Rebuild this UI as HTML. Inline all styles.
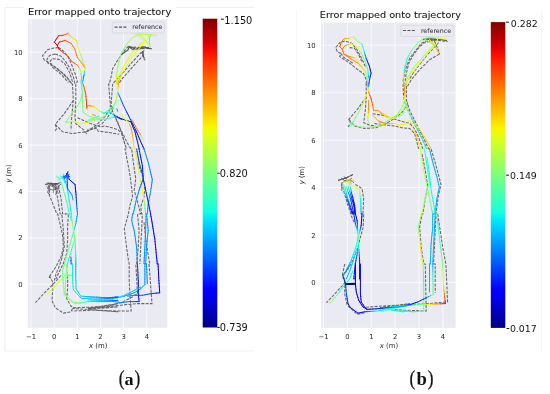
<!DOCTYPE html><html><head><meta charset="utf-8"><title>Error mapped onto trajectory</title>
<style>html,body{margin:0;padding:0;background:#fff}body{width:550px;height:394px;overflow:hidden;position:relative}svg{position:absolute;left:0;top:0;display:block}text{font-family:"DejaVu Sans","Liberation Sans",sans-serif}g.cap text{font-family:"Liberation Serif","DejaVu Serif",serif}</style></head><body>
<svg width="550" height="394" viewBox="0 0 550 394" fill="#262626">
<defs><linearGradient id="jet" x1="0" y1="1" x2="0" y2="0">
<stop offset="0.000" stop-color="#000080"/>
<stop offset="0.025" stop-color="#00009c"/>
<stop offset="0.050" stop-color="#0000b9"/>
<stop offset="0.075" stop-color="#0000d6"/>
<stop offset="0.100" stop-color="#0000f3"/>
<stop offset="0.125" stop-color="#0000ff"/>
<stop offset="0.150" stop-color="#0019ff"/>
<stop offset="0.175" stop-color="#0033ff"/>
<stop offset="0.200" stop-color="#004dff"/>
<stop offset="0.225" stop-color="#0066ff"/>
<stop offset="0.250" stop-color="#0080ff"/>
<stop offset="0.275" stop-color="#0099ff"/>
<stop offset="0.300" stop-color="#00b2ff"/>
<stop offset="0.325" stop-color="#00ccff"/>
<stop offset="0.350" stop-color="#00e5f7"/>
<stop offset="0.375" stop-color="#15ffe2"/>
<stop offset="0.400" stop-color="#29ffce"/>
<stop offset="0.425" stop-color="#3effb9"/>
<stop offset="0.450" stop-color="#52ffa5"/>
<stop offset="0.475" stop-color="#67ff90"/>
<stop offset="0.500" stop-color="#7bff7b"/>
<stop offset="0.525" stop-color="#90ff67"/>
<stop offset="0.550" stop-color="#a5ff52"/>
<stop offset="0.575" stop-color="#b9ff3e"/>
<stop offset="0.600" stop-color="#ceff29"/>
<stop offset="0.625" stop-color="#e2ff15"/>
<stop offset="0.650" stop-color="#f7f600"/>
<stop offset="0.675" stop-color="#ffde00"/>
<stop offset="0.700" stop-color="#ffc600"/>
<stop offset="0.725" stop-color="#ffaf00"/>
<stop offset="0.750" stop-color="#ff9700"/>
<stop offset="0.775" stop-color="#ff8000"/>
<stop offset="0.800" stop-color="#ff6800"/>
<stop offset="0.825" stop-color="#ff5000"/>
<stop offset="0.850" stop-color="#ff3900"/>
<stop offset="0.875" stop-color="#ff2100"/>
<stop offset="0.900" stop-color="#f30900"/>
<stop offset="0.925" stop-color="#d60000"/>
<stop offset="0.950" stop-color="#b90000"/>
<stop offset="0.975" stop-color="#9c0000"/>
<stop offset="1.000" stop-color="#800000"/>
</linearGradient>
<clipPath id="ca"><rect x="28" y="19.2" width="139.3" height="308.6"/></clipPath>
<clipPath id="cb"><rect x="321" y="22.6" width="134.6" height="305"/></clipPath>
</defs>
<rect width="550" height="394" fill="#fff"/>
<path d="M254.5 7.6H5V350.9H254.5" fill="none" stroke="#eeeeee" stroke-width="1"/>
<path d="M296.6 10V352M541.6 10V351" fill="none" stroke="#f6f6f6" stroke-width="1"/>
<rect x="28" y="19.2" width="139.3" height="308.6" fill="#eaeaf2"/>
<path d="M31.1 19.2V327.8M54.2 19.2V327.8M77.3 19.2V327.8M100.5 19.2V327.8M123.6 19.2V327.8M146.8 19.2V327.8M28.0 284.3H167.3M28.0 237.9H167.3M28.0 191.5H167.3M28.0 145.1H167.3M28.0 98.7H167.3M28.0 52.3H167.3" stroke="#fff" stroke-width="0.8" fill="none" opacity="0.9"/>
<g font-size="6.8" text-anchor="middle">
<text x="31.1" y="339.0">−1</text>
<text x="54.2" y="339.0">0</text>
<text x="77.3" y="339.0">1</text>
<text x="100.5" y="339.0">2</text>
<text x="123.6" y="339.0">3</text>
<text x="146.8" y="339.0">4</text>
</g><g font-size="6.8" text-anchor="end">
<text x="22.6" y="286.8">0</text>
<text x="22.6" y="240.4">2</text>
<text x="22.6" y="194.0">4</text>
<text x="22.6" y="147.6">6</text>
<text x="22.6" y="101.2">8</text>
<text x="22.6" y="54.8">10</text>
</g>
<text x="98.2" y="348.3" font-size="6.9" text-anchor="middle"><tspan font-style="italic">x</tspan> (m)</text>
<text transform="translate(10.8 173.5) rotate(-90)" font-size="6.9" text-anchor="middle"><tspan font-style="italic">y</tspan> (m)</text>
<g clip-path="url(#ca)">
<g fill="none" stroke="#5a5a5a" stroke-width="1.05" stroke-dasharray="3 1.3" opacity="0.92">
<path d="M58.5 47.4L52.7 48.3L47.5 49.8L42.5 55.6L44.2 59.9L50.3 63.5L59.3 70.1L66.7 76.7L71.2 83.8L72.5 84.0L73.3 100.5L71.7 117.0L70.9 130.2"/>
<path d="M55.2 53.9L49.4 55.6L47.0 59.4L47.8 63.2L54.4 66.8L62.6 73.4L69.2 80.0L71.7 83.8"/>
<path d="M58.5 47.4L63.4 51.1L67.6 56.1L71.2 63.5L75.0 73.4L77.5 81.6L75.8 84.0L75.8 100.5L75.0 117.0L75.8 123.6L84.0 130.2L86.5 133.5L88.2 129.3L97.2 128.5L97.9 131.0L109.4 132.6L119.3 134.3"/>
<path d="M55.2 53.9L61.0 56.1L65.9 61.9L70.0 68.5L73.3 76.7L75.0 83.8"/>
<path d="M72.5 81.6L69.2 71.7L65.1 64.3L59.3 59.4L52.7 58.6L50.3 61.0L51.9 66.8L61.0 74.2L68.4 82.5"/>
<path d="M73.3 100.5L64.3 113.7L55.2 124.4L56.8 128.5L54.4 131.8"/>
<path d="M55.2 124.4L62.6 131.8L72.5 133.5L85.7 131.8L93.9 128.5L102.2 123.6L110.4 113.7L113.7 107.1L110.3 108.7L110.3 103.8L109.4 93.9L108.6 84.0L109.4 83.8L111.1 76.7L112.7 68.5L117.7 60.2L123.4 52.0L128.4 46.2"/>
<path d="M77.5 117.8L90.6 123.6L100.5 126.9L104.5 126.0L114.4 128.5L118.5 130.2L121.8 133.5L125.1 145.0L126.7 148.8L125.1 149.0L127.6 162.2L130.0 175.4L131.7 188.6L132.5 196.8L130.0 205.0L128.4 213.8L128.4 214.0L124.3 228.8L125.9 242.0L128.4 260.2L129.2 263.9L129.2 264.0L129.2 280.5L130.0 297.0L131.2 311.0L117.7 311.0L104.5 310.5L94.6 310.2L88.0 309.3L118.0 311.8L110.4 311.0L93.9 310.2L72.5 311.0"/>
<path d="M128.4 46.2L135.8 48.7L142.4 47.0L151.5 48.7"/>
<path d="M129.2 47.4L135.0 47.0L140.7 49.0L149.0 47.8"/>
<path d="M142.4 51.1L143.2 55.3L144.9 60.2"/>
<path d="M141.6 52.0L132.5 61.9L121.0 75.0L112.7 83.8L112.7 84.0L111.9 93.9L111.1 105.4L112.7 112.0L117.7 121.9L121.8 133.5L125.1 145.0"/>
<path d="M144.0 54.4L134.2 65.2L122.6 78.3L118.5 83.8"/>
<path d="M114.4 115.3L119.3 126.9L124.3 136.7L129.2 146.6L131.7 149.0L133.3 162.2L135.8 178.7L134.2 190.2L137.5 201.7L140.7 213.8L137.5 214.0L139.1 230.5L138.3 247.0L136.6 263.9L135.8 264.0L136.6 277.2L137.5 293.7L130.9 297.8L121.0 302.7L107.8 306.0L96.2 307.7L88.0 308.2L118.0 306.9L102.2 308.2L85.7 309.3L72.5 308.5"/>
<path d="M137.5 162.2L142.4 175.4L144.9 186.9L144.0 196.8L140.7 206.7L141.6 213.8L142.4 214.0L141.6 230.5L140.7 247.0L139.9 263.9"/>
<path d="M144.0 222.2L145.7 238.7L148.2 255.2L149.8 263.9L149.0 264.0L150.3 280.5L152.0 303.6L137.5 303.6L121.0 305.2L104.5 307.2L88.0 308.5L118.0 303.6L103.8 306.0L90.6 307.2L74.2 307.7L70.9 306.0L66.7 298.6L67.6 288.7L67.6 276.4"/>
<path d="M110.3 108.7L104.5 117.0L96.2 125.2L88.0 131.0"/>
<path d="M45.3 184.4L51.1 183.6L59.3 183.6"/>
<path d="M47.8 182.8L54.4 186.1L58.5 182.0"/>
<path d="M48.6 185.3L49.4 195.2L52.7 203.4L56.8 213.8L57.7 214.0L60.1 223.9L62.6 235.4L63.4 247.0L61.0 256.9L56.0 266.7L49.4 276.6L49.4 275.5L52.7 282.1L52.7 290.4L51.9 300.3L55.2 307.7L63.4 313.1L70.9 311.8L72.5 308.5"/>
<path d="M55.2 186.9L57.7 198.5L60.1 213.8L61.8 214.0L63.4 230.5L64.3 247.0L61.8 258.5L58.5 268.4L56.0 273.9L54.4 280.5"/>
<path d="M58.5 186.1L61.0 198.5L62.6 213.8L68.4 214.0L67.6 227.2L67.6 240.4L66.7 253.6L63.4 263.5L59.3 271.7L56.0 278.8"/>
<path d="M61.0 275.5L52.7 284.6L42.8 294.5L34.6 303.6"/>
</g>
<g fill="none" stroke="#505050" stroke-linejoin="round" opacity="0.9">
<path d="M121.6 54.6L125.0 52.0L128.2 49.7L129.0 46.8L133.1 49.7L136.0 48.3L138.9 47.6L144.6 46.8L147.9 48.4L151.6 48.7" stroke-width="1.3"/>
<path d="M129.0 47.5L132.0 47.0L135.0 49.5L140.0 48.8L145.0 47.8L149.0 47.5" stroke-width="1.0"/>
<path d="M143.8 50.5L143.0 54.6L144.6 60.3" stroke-width="0.9"/>
<path d="M143.8 50.5L141.5 53.0L143.5 56.0" stroke-width="0.9"/>
<path d="M45.2 184.3L50.0 183.5L55.0 184.5L60.5 182.5" stroke-width="0.9"/>
<path d="M47.5 182.5L52.0 186.5L56.0 183.0L59.0 186.5" stroke-width="0.9"/>
<path d="M48.5 187.0L53.0 183.0L57.0 187.5L61.0 184.0" stroke-width="0.9"/>
<path d="M49.0 185.0L50.0 190.0L48.5 194.0" stroke-width="0.8"/>
<path d="M52.0 184.0L54.0 189.0L53.0 193.0" stroke-width="0.8"/>
<path d="M55.5 184.0L57.0 190.0L58.5 194.0" stroke-width="0.8"/>
<path d="M50.5 182.0L56.0 188.0L60.0 191.0" stroke-width="0.7"/>
<path d="M46.5 186.0L49.0 189.5L47.0 192.0L50.0 195.0" stroke-width="0.7"/>
<path d="M54.0 186.0L56.5 191.5L55.5 195.0" stroke-width="0.7"/>
<path d="M47.0 188.5L53.0 190.0L59.0 188.0" stroke-width="0.7"/>
</g>
<g fill="none" stroke-width="1.0" stroke-linecap="round" opacity="1"><path d="M54.4 42.1L56.4 38.9" stroke="#b70000"/><path d="M56.4 38.9L58.5 35.8" stroke="#df0000"/><path d="M58.5 35.8L63.4 35.2" stroke="#ff2100"/><path d="M63.4 35.2L67.9 33.5" stroke="#ff5e00"/><path d="M67.9 33.5L70.2 35.7" stroke="#ff9e00"/><path d="M70.2 35.7L72.5 38.0" stroke="#ffd200"/><path d="M72.5 38.0L74.7 39.4" stroke="#ffe700"/><path d="M74.7 39.4L77.0 40.8" stroke="#ffde00"/><path d="M77.0 40.8L77.2 43.5" stroke="#ffe300"/><path d="M77.2 43.5L77.5 46.2" stroke="#f7f600"/><path d="M77.5 46.2L78.5 48.9" stroke="#e6ff10"/><path d="M78.5 48.9L79.6 51.7" stroke="#d6ff21"/><path d="M79.6 51.7L80.7 54.4" stroke="#c5ff31"/><path d="M80.7 54.4L81.6 56.9" stroke="#b2ff45"/><path d="M81.6 56.9L82.4 59.4" stroke="#9cff5a"/><path d="M82.4 59.4L83.2 61.9" stroke="#86ff70"/><path d="M83.2 61.9L84.0 64.7" stroke="#afff48"/><path d="M84.0 64.7L84.9 67.6" stroke="#ffd200"/><path d="M84.9 67.6L84.5 71.3" stroke="#d8ff1f"/><path d="M84.5 71.3L84.0 75.0" stroke="#00d9ff"/><path d="M84.0 75.0L83.5 78.0" stroke="#0068ff"/><path d="M83.5 78.0L82.9 80.9" stroke="#009eff"/><path d="M82.9 80.9L82.4 83.8" stroke="#00d4ff"/><path d="M82.4 83.8L81.6 84.0" stroke="#08f0ef"/><path d="M81.6 84.0L81.8 86.7" stroke="#15ffe2"/><path d="M81.8 86.7L82.1 89.5" stroke="#2dffca"/><path d="M82.1 89.5L82.4 92.2" stroke="#46ffb1"/><path d="M82.4 92.2L81.8 95.0" stroke="#59ff9e"/><path d="M81.8 95.0L81.3 97.7" stroke="#67ff90"/><path d="M81.3 97.7L80.7 100.5" stroke="#75ff82"/><path d="M80.7 100.5L79.1 103.2" stroke="#7bff7b"/><path d="M79.1 103.2L77.5 106.0" stroke="#7bff7b"/><path d="M77.5 106.0L75.8 108.7" stroke="#7bff7b"/><path d="M75.8 108.7L74.2 110.8" stroke="#7bff7b"/><path d="M74.2 110.8L72.5 112.8" stroke="#7bff7b"/><path d="M72.5 112.8L70.9 114.9" stroke="#7bff7b"/><path d="M70.9 114.9L69.2 117.0" stroke="#7bff7b"/><path d="M69.2 117.0L67.6 119.9" stroke="#7bff7b"/><path d="M67.6 119.9L65.9 122.7" stroke="#7bff7b"/><path d="M65.9 122.7L69.2 121.9" stroke="#94ff63"/><path d="M69.2 121.9L72.5 121.1" stroke="#c5ff31"/><path d="M72.5 121.1L75.3 121.9" stroke="#e2ff15"/><path d="M75.3 121.9L78.0 122.7" stroke="#eaff0c"/><path d="M78.0 122.7L80.7 123.6" stroke="#f3fa04"/><path d="M80.7 123.6L83.5 123.0" stroke="#f8f400"/><path d="M83.5 123.0L86.2 122.5" stroke="#fbf100"/><path d="M86.2 122.5L89.0 121.9" stroke="#feee00"/><path d="M89.0 121.9L91.7 121.1" stroke="#f0fd07"/><path d="M91.7 121.1L94.5 120.3" stroke="#d2ff25"/><path d="M94.5 120.3L97.2 119.4" stroke="#b4ff43"/><path d="M97.2 119.4L100.0 119.4" stroke="#93ff64"/><path d="M100.0 119.4L102.7 119.4" stroke="#6fff88"/><path d="M102.7 119.4L105.5 119.4" stroke="#4bffab"/><path d="M105.5 119.4L108.2 118.6" stroke="#37ffc0"/><path d="M108.2 118.6L111.0 117.8" stroke="#31ffc5"/><path d="M111.0 117.8L113.7 117.0" stroke="#2cffcb"/><path d="M113.7 117.0L116.8 117.0" stroke="#00e5f7"/><path d="M116.8 117.0L119.3 118.2" stroke="#0099ff"/><path d="M119.3 118.2L121.8 119.4" stroke="#0066ff"/></g>
<g fill="none" stroke-width="1.0" stroke-linecap="round" opacity="1"><path d="M54.4 42.1L57.3 45.4" stroke="#bf0000"/><path d="M57.3 45.4L59.3 42.1" stroke="#e80000"/><path d="M59.3 42.1L62.2 41.3" stroke="#ff1800"/><path d="M62.2 41.3L65.1 40.4" stroke="#ff3400"/><path d="M65.1 40.4L68.1 41.9" stroke="#ff5000"/><path d="M68.1 41.9L71.2 43.4" stroke="#ff6d00"/><path d="M71.2 43.4L73.1 46.4" stroke="#ff7d00"/><path d="M73.1 46.4L75.0 49.5" stroke="#ff8200"/><path d="M75.0 49.5L75.8 52.2" stroke="#ff8400"/><path d="M75.8 52.2L76.6 55.0" stroke="#ff8400"/><path d="M76.6 55.0L77.5 57.7" stroke="#ff8400"/><path d="M77.5 57.7L79.5 60.2" stroke="#ff8400"/><path d="M79.5 60.2L81.6 62.7" stroke="#ff8400"/><path d="M81.6 62.7L83.2 65.2" stroke="#ff8900"/><path d="M83.2 65.2L84.9 67.6" stroke="#ff9200"/></g>
<g fill="none" stroke-width="1.0" stroke-linecap="round" opacity="1"><path d="M57.3 45.4L58.5 48.7" stroke="#e80000"/><path d="M58.5 48.7L61.0 50.7" stroke="#ff1800"/><path d="M61.0 50.7L63.4 52.8" stroke="#ff3400"/><path d="M63.4 52.8L65.9 54.7" stroke="#ff4400"/><path d="M65.9 54.7L68.4 56.6" stroke="#ff4900"/><path d="M68.4 56.6L69.8 58.8" stroke="#ff4c00"/><path d="M69.8 58.8L71.2 61.0" stroke="#ff4c00"/><path d="M71.2 61.0L74.3 63.1" stroke="#ff5700"/><path d="M74.3 63.1L77.5 65.2" stroke="#ff6f00"/><path d="M77.5 65.2L78.9 67.6" stroke="#ff9700"/><path d="M78.9 67.6L80.4 70.1" stroke="#ffd000"/><path d="M80.4 70.1L81.0 73.4" stroke="#c1ff35"/><path d="M81.0 73.4L81.6 76.7" stroke="#46ffb1"/><path d="M81.6 76.7L81.3 80.2" stroke="#08f0ef"/><path d="M81.3 80.2L81.1 83.8" stroke="#08f0ef"/><path d="M81.1 83.8L83.2 84.0" stroke="#bdff3a"/><path d="M83.2 84.0L83.8 86.5" stroke="#ff6400"/><path d="M83.8 86.5L84.5 88.9" stroke="#ff5d00"/><path d="M84.5 88.9L85.1 91.4" stroke="#ff5600"/><path d="M85.1 91.4L85.7 93.9" stroke="#ff4f00"/><path d="M85.7 93.9L86.0 96.6" stroke="#ff4a00"/><path d="M86.0 96.6L86.2 99.4" stroke="#ff4700"/><path d="M86.2 99.4L86.5 102.1" stroke="#ff4400"/><path d="M86.5 102.1L86.5 105.4" stroke="#ff4c00"/><path d="M86.5 105.4L86.5 108.7" stroke="#ff5e00"/><path d="M86.5 108.7L88.2 105.4" stroke="#ff7600"/><path d="M88.2 105.4L91.0 105.8" stroke="#ff9e00"/><path d="M91.0 105.8L93.9 106.3" stroke="#ffd200"/><path d="M93.9 106.3L96.4 108.3" stroke="#f3fa04"/><path d="M96.4 108.3L98.9 110.4" stroke="#daff1d"/><path d="M98.9 110.4L101.4 112.0" stroke="#a0ff56"/><path d="M101.4 112.0L103.8 113.7" stroke="#46ffb1"/><path d="M103.8 113.7L106.0 112.0" stroke="#22ffd5"/><path d="M106.0 112.0L108.2 110.4" stroke="#35ffc1"/><path d="M108.2 110.4L110.4 108.7" stroke="#49ffae"/><path d="M110.4 108.7L112.3 106.7" stroke="#57ff9f"/><path d="M112.3 106.7L114.2 104.6" stroke="#62ff95"/><path d="M114.2 104.6L116.1 102.5" stroke="#6cff8b"/><path d="M116.1 102.5L118.0 100.5" stroke="#76ff81"/></g>
<g fill="none" stroke-width="1.0" stroke-linecap="round" opacity="1"><path d="M82.4 93.9L82.4 97.2" stroke="#7bff7b"/><path d="M82.4 97.2L82.4 100.5" stroke="#7bff7b"/><path d="M82.4 100.5L82.4 103.8" stroke="#7bff7b"/><path d="M82.4 103.8L82.7 106.5" stroke="#7bff7b"/><path d="M82.7 106.5L82.9 109.3" stroke="#7bff7b"/><path d="M82.9 109.3L83.2 112.0" stroke="#7bff7b"/><path d="M83.2 112.0L85.3 113.7" stroke="#7bff7b"/><path d="M85.3 113.7L87.3 115.3" stroke="#7bff7b"/><path d="M87.3 115.3L90.6 116.6" stroke="#77ff80"/><path d="M90.6 116.6L93.9 117.8" stroke="#6fff88"/><path d="M93.9 117.8L96.4 117.0" stroke="#65ff92"/><path d="M96.4 117.0L98.9 116.1" stroke="#58ff9e"/><path d="M98.9 116.1L96.2 117.2" stroke="#54ffa2"/><path d="M96.2 117.2L93.4 118.2" stroke="#58ff9e"/><path d="M93.4 118.2L90.7 119.2" stroke="#5dff9a"/><path d="M90.7 119.2L88.0 120.3" stroke="#61ff96"/><path d="M88.0 120.3L91.3 119.9" stroke="#69ff8e"/><path d="M91.3 119.9L94.6 119.4" stroke="#75ff82"/><path d="M94.6 119.4L97.9 118.6" stroke="#7bff7b"/><path d="M97.9 118.6L101.2 117.8" stroke="#7bff7b"/><path d="M101.2 117.8L104.5 116.1" stroke="#7bff7b"/><path d="M104.5 116.1L107.8 114.5" stroke="#7bff7b"/><path d="M107.8 114.5L109.4 112.6" stroke="#7eff79"/><path d="M109.4 112.6L111.1 110.6" stroke="#84ff73"/><path d="M111.1 110.6L112.7 108.7" stroke="#89ff6e"/><path d="M112.7 108.7L113.8 106.0" stroke="#90ff67"/><path d="M113.8 106.0L114.9 103.2" stroke="#98ff5f"/><path d="M114.9 103.2L116.0 100.5" stroke="#a0ff56"/><path d="M116.0 100.5L116.6 97.7" stroke="#abff4b"/><path d="M116.6 97.7L117.1 95.0" stroke="#b9ff3e"/><path d="M117.1 95.0L117.7 92.2" stroke="#c7ff30"/><path d="M117.7 92.2L117.9 89.5" stroke="#e2ff15"/><path d="M117.9 89.5L118.2 86.7" stroke="#ffde00"/><path d="M118.2 86.7L118.5 84.0" stroke="#ffaf00"/><path d="M118.5 84.0L116.8 83.8" stroke="#ffaf00"/><path d="M116.8 83.8L116.7 80.9" stroke="#ffde00"/><path d="M116.7 80.9L116.5 78.0" stroke="#e2ff15"/><path d="M116.5 78.0L116.4 75.0" stroke="#b9ff3e"/><path d="M116.4 75.0L116.9 72.2" stroke="#a1ff55"/><path d="M116.9 72.2L117.4 69.3" stroke="#9bff5c"/><path d="M117.4 69.3L118.0 66.4" stroke="#95ff62"/><path d="M118.0 66.4L118.5 63.5" stroke="#8fff68"/><path d="M118.5 63.5L119.1 61.0" stroke="#8aff6d"/><path d="M119.1 61.0L119.7 58.6" stroke="#86ff71"/><path d="M119.7 58.6L120.3 56.1" stroke="#82ff75"/><path d="M120.3 56.1L121.0 53.6" stroke="#7dff79"/><path d="M121.0 53.6L122.6 50.9" stroke="#7eff79"/><path d="M122.6 50.9L124.3 48.1" stroke="#84ff73"/><path d="M124.3 48.1L125.9 45.4" stroke="#89ff6e"/><path d="M125.9 45.4L127.7 43.2" stroke="#90ff67"/><path d="M127.7 43.2L129.4 41.0" stroke="#98ff5f"/><path d="M129.4 41.0L131.2 38.8" stroke="#a0ff56"/><path d="M131.2 38.8L133.9 37.1" stroke="#a7ff50"/><path d="M133.9 37.1L136.6 35.5" stroke="#abff4c"/><path d="M136.6 35.5L139.5 34.8" stroke="#afff48"/><path d="M139.5 34.8L142.4 34.2" stroke="#b3ff44"/><path d="M142.4 34.2L146.1 34.4" stroke="#b7ff40"/><path d="M146.1 34.4L149.8 34.7" stroke="#bbff3c"/><path d="M149.8 34.7L153.5 35.1" stroke="#c1ff35"/><path d="M153.5 35.1L157.2 35.5" stroke="#caff2d"/></g>
<g fill="none" stroke-width="1.0" stroke-linecap="round" opacity="1"><path d="M151.1 34.2L149.5 38.0" stroke="#67ff90"/><path d="M149.5 38.0L149.2 42.2" stroke="#52ffa5"/><path d="M149.2 42.2L149.7 45.0" stroke="#67ff90"/><path d="M149.7 45.0L150.3 47.7" stroke="#90ff67"/><path d="M150.3 47.7L148.8 45.5" stroke="#afff48"/><path d="M148.8 45.5L147.3 43.4" stroke="#c3ff33"/><path d="M147.3 43.4L145.9 41.2" stroke="#caff2d"/><path d="M145.9 41.2L144.5 38.9" stroke="#c1ff35"/><path d="M144.5 38.9L142.1 36.3" stroke="#bbff3c"/><path d="M142.1 36.3L139.8 33.7" stroke="#b7ff40"/><path d="M139.8 33.7L135.0 34.2" stroke="#b1ff46"/></g>
<g fill="none" stroke-width="1.0" stroke-linecap="round" opacity="1"><path d="M149.8 34.7L148.2 37.4" stroke="#d6ff21"/><path d="M148.2 37.4L146.5 40.1" stroke="#e6ff10"/><path d="M146.5 40.1L144.7 42.1" stroke="#efff08"/><path d="M144.7 42.1L142.9 44.2" stroke="#efff08"/><path d="M142.9 44.2L141.1 46.2" stroke="#efff08"/><path d="M141.1 46.2L139.3 48.3" stroke="#efff08"/><path d="M139.3 48.3L137.5 50.3" stroke="#efff08"/><path d="M137.5 50.3L135.8 52.6" stroke="#efff08"/><path d="M135.8 52.6L134.2 54.9" stroke="#efff08"/><path d="M134.2 54.9L132.5 57.2" stroke="#efff08"/><path d="M132.5 57.2L130.9 59.5" stroke="#efff08"/><path d="M130.9 59.5L129.2 61.9" stroke="#efff08"/><path d="M129.2 61.9L127.7 64.2" stroke="#f0fd07"/><path d="M127.7 64.2L126.2 66.5" stroke="#f3f903"/><path d="M126.2 66.5L124.8 68.8" stroke="#f7f600"/><path d="M124.8 68.8L123.3 71.1" stroke="#faf200"/><path d="M123.3 71.1L121.8 73.4" stroke="#fdee00"/><path d="M121.8 73.4L120.8 76.0" stroke="#ffe100"/><path d="M120.8 76.0L119.7 78.6" stroke="#ffcc00"/><path d="M119.7 78.6L118.7 81.2" stroke="#ffb700"/><path d="M118.7 81.2L117.7 83.8" stroke="#ffa200"/></g>
<g fill="none" stroke-width="1.0" stroke-linecap="round" opacity="1"><path d="M137.5 34.7L139.6 36.6" stroke="#c3ff34"/><path d="M139.6 36.6L141.8 38.5" stroke="#ceff29"/><path d="M141.8 38.5L144.0 40.4" stroke="#d9ff1e"/><path d="M144.0 40.4L142.1 42.4" stroke="#deff19"/><path d="M142.1 42.4L140.2 44.3" stroke="#deff19"/><path d="M140.2 44.3L138.3 46.2" stroke="#deff19"/><path d="M138.3 46.2L136.4 48.1" stroke="#deff19"/><path d="M136.4 48.1L134.4 50.0" stroke="#deff19"/><path d="M134.4 50.0L132.5 52.0" stroke="#deff19"/><path d="M132.5 52.0L131.0 54.4" stroke="#deff19"/><path d="M131.0 54.4L129.5 56.9" stroke="#deff19"/><path d="M129.5 56.9L128.0 59.4" stroke="#deff19"/><path d="M128.0 59.4L126.5 61.9" stroke="#deff19"/><path d="M126.5 61.9L125.0 64.3" stroke="#deff19"/><path d="M125.0 64.3L123.4 66.8" stroke="#deff19"/><path d="M123.4 66.8L122.2 69.3" stroke="#deff19"/><path d="M122.2 69.3L121.0 71.7" stroke="#deff19"/><path d="M121.0 71.7L119.7 74.2" stroke="#deff19"/><path d="M119.7 74.2L118.5 76.7" stroke="#deff19"/><path d="M118.5 76.7L117.9 80.2" stroke="#efff08"/><path d="M117.9 80.2L117.3 83.8" stroke="#ffd900"/></g>
<g fill="none" stroke-width="1.0" stroke-linecap="round" opacity="1"><path d="M88.0 105.4L91.3 106.3" stroke="#ff9e00"/><path d="M91.3 106.3L94.6 107.1" stroke="#ffd200"/><path d="M94.6 107.1L97.1 109.1" stroke="#f3fa04"/><path d="M97.1 109.1L99.5 111.2" stroke="#daff1d"/><path d="M99.5 111.2L102.0 112.0" stroke="#a5ff52"/><path d="M102.0 112.0L104.5 112.8" stroke="#52ffa5"/><path d="M104.5 112.8L107.0 112.4" stroke="#21ffd6"/><path d="M107.0 112.4L109.4 112.0" stroke="#10fae6"/><path d="M109.4 112.0L112.7 114.5" stroke="#08f0ef"/><path d="M112.7 114.5L116.8 117.0" stroke="#00d1ff"/><path d="M116.8 117.0L119.3 118.2" stroke="#0094ff"/><path d="M119.3 118.2L121.8 119.4" stroke="#0057ff"/></g>
<g fill="none" stroke-width="1.0" stroke-linecap="round" opacity="1"><path d="M92.3 114.5L95.6 115.6" stroke="#ff9700"/></g>
<g fill="none" stroke-width="1.0" stroke-linecap="round" opacity="1"><path d="M117.7 92.2L118.5 93.9" stroke="#15ffe2"/><path d="M118.5 93.9L119.5 96.2" stroke="#007aff"/><path d="M119.5 96.2L120.5 98.5" stroke="#0070ff"/><path d="M120.5 98.5L121.5 100.8" stroke="#0066ff"/><path d="M121.5 100.8L122.5 103.1" stroke="#005cff"/><path d="M122.5 103.1L123.4 105.4" stroke="#0052ff"/><path d="M123.4 105.4L124.6 107.7" stroke="#004aff"/><path d="M124.6 107.7L125.7 110.0" stroke="#0046ff"/><path d="M125.7 110.0L126.9 112.4" stroke="#0042ff"/><path d="M126.9 112.4L128.1 114.7" stroke="#003eff"/><path d="M128.1 114.7L129.2 117.0" stroke="#003aff"/><path d="M129.2 117.0L130.5 119.6" stroke="#0035ff"/><path d="M130.5 119.6L131.8 122.2" stroke="#002fff"/><path d="M131.8 122.2L133.2 124.9" stroke="#0029ff"/><path d="M133.2 124.9L134.5 127.5" stroke="#0023ff"/><path d="M134.5 127.5L135.8 130.2" stroke="#001dff"/><path d="M135.8 130.2L136.8 132.5" stroke="#0019ff"/><path d="M136.8 132.5L137.8 134.8" stroke="#0019ff"/><path d="M137.8 134.8L138.8 137.1" stroke="#0019ff"/><path d="M138.8 137.1L139.8 139.4" stroke="#0019ff"/><path d="M139.8 139.4L140.7 141.7" stroke="#0019ff"/><path d="M140.7 141.7L141.8 144.1" stroke="#0019ff"/><path d="M141.8 144.1L142.9 146.4" stroke="#0019ff"/><path d="M142.9 146.4L144.0 148.8" stroke="#0019ff"/><path d="M144.0 148.8L144.0 149.0" stroke="#0057ff"/><path d="M144.0 149.0L144.9 151.6" stroke="#0094ff"/><path d="M144.9 151.6L145.7 154.3" stroke="#0094ff"/><path d="M145.7 154.3L146.5 156.9" stroke="#0094ff"/><path d="M146.5 156.9L147.3 159.5" stroke="#0094ff"/><path d="M147.3 159.5L148.2 162.2" stroke="#0094ff"/><path d="M148.2 162.2L148.8 164.7" stroke="#0092ff"/><path d="M148.8 164.7L149.3 167.1" stroke="#0090ff"/><path d="M149.3 167.1L149.9 169.6" stroke="#008dff"/><path d="M149.9 169.6L150.5 172.1" stroke="#008aff"/><path d="M150.5 172.1L151.1 174.5" stroke="#0087ff"/><path d="M151.1 174.5L151.7 177.0" stroke="#0084ff"/><path d="M151.7 177.0L152.3 179.5" stroke="#0081ff"/><path d="M152.3 179.5L151.9 182.6" stroke="#0082ff"/><path d="M151.9 182.6L151.5 185.7" stroke="#0087ff"/><path d="M151.5 185.7L151.0 188.8" stroke="#008cff"/><path d="M151.0 188.8L150.6 191.9" stroke="#0091ff"/><path d="M150.6 191.9L150.0 194.7" stroke="#0094ff"/><path d="M150.0 194.7L149.4 197.6" stroke="#0094ff"/><path d="M149.4 197.6L148.8 200.5" stroke="#0094ff"/><path d="M148.8 200.5L148.2 203.4" stroke="#0094ff"/><path d="M148.2 203.4L148.0 206.0" stroke="#0094ff"/><path d="M148.0 206.0L147.8 208.6" stroke="#0094ff"/><path d="M147.8 208.6L147.5 211.2" stroke="#0094ff"/><path d="M147.5 211.2L147.3 213.8" stroke="#0094ff"/><path d="M147.3 213.8L146.5 214.0" stroke="#0094ff"/><path d="M146.5 214.0L146.8 216.7" stroke="#0094ff"/><path d="M146.8 216.7L147.1 219.5" stroke="#0094ff"/><path d="M147.1 219.5L147.3 222.2" stroke="#0094ff"/><path d="M147.3 222.2L147.6 225.0" stroke="#0094ff"/><path d="M147.6 225.0L147.9 227.7" stroke="#0094ff"/><path d="M147.9 227.7L148.2 230.5" stroke="#0094ff"/><path d="M148.2 230.5L147.9 233.2" stroke="#0094ff"/><path d="M147.9 233.2L147.6 236.0" stroke="#0094ff"/><path d="M147.6 236.0L147.3 238.7" stroke="#0094ff"/><path d="M147.3 238.7L147.1 241.5" stroke="#0094ff"/><path d="M147.1 241.5L146.8 244.2" stroke="#0094ff"/><path d="M146.8 244.2L146.5 247.0" stroke="#0094ff"/><path d="M146.5 247.0L146.4 249.7" stroke="#0094ff"/><path d="M146.4 249.7L146.2 252.5" stroke="#0094ff"/><path d="M146.2 252.5L146.1 255.2" stroke="#0094ff"/><path d="M146.1 255.2L146.0 258.0" stroke="#0094ff"/><path d="M146.0 258.0L145.8 260.7" stroke="#0094ff"/><path d="M145.8 260.7L145.7 263.5" stroke="#0094ff"/><path d="M145.7 263.5L144.9 264.0" stroke="#0094ff"/><path d="M144.9 264.0L144.9 266.6" stroke="#0094ff"/><path d="M144.9 266.6L144.9 269.2" stroke="#0094ff"/><path d="M144.9 269.2L144.9 271.7" stroke="#0094ff"/><path d="M144.9 271.7L144.9 274.3" stroke="#0094ff"/><path d="M144.9 274.3L144.9 276.9" stroke="#0094ff"/><path d="M144.9 276.9L144.9 279.5" stroke="#0094ff"/><path d="M144.9 279.5L144.9 282.0" stroke="#0094ff"/><path d="M144.9 282.0L144.9 284.6" stroke="#0094ff"/><path d="M144.9 284.6L142.8 286.7" stroke="#0094ff"/><path d="M142.8 286.7L140.7 288.7" stroke="#0094ff"/><path d="M140.7 288.7L138.5 290.1" stroke="#0094ff"/><path d="M138.5 290.1L136.4 291.5" stroke="#0094ff"/><path d="M136.4 291.5L134.2 292.8" stroke="#0094ff"/><path d="M134.2 292.8L131.7 293.7" stroke="#0095ff"/><path d="M131.7 293.7L129.2 294.5" stroke="#0098ff"/><path d="M129.2 294.5L126.7 295.3" stroke="#009aff"/><path d="M126.7 295.3L124.3 296.1" stroke="#009dff"/><path d="M124.3 296.1L121.4 296.8" stroke="#00a1ff"/><path d="M121.4 296.8L118.5 297.4" stroke="#00a6ff"/><path d="M118.5 297.4L115.6 298.0" stroke="#00abff"/><path d="M115.6 298.0L112.7 298.6" stroke="#00b0ff"/><path d="M112.7 298.6L109.8 298.8" stroke="#00b6ff"/><path d="M109.8 298.8L107.0 299.0" stroke="#00beff"/><path d="M107.0 299.0L104.1 299.2" stroke="#00c6ff"/><path d="M104.1 299.2L101.2 299.4" stroke="#00cdff"/><path d="M101.2 299.4L98.5 299.4" stroke="#00d4ff"/><path d="M98.5 299.4L95.9 299.4" stroke="#00daff"/><path d="M95.9 299.4L93.3 299.4" stroke="#00e0fb"/><path d="M93.3 299.4L90.6 299.4" stroke="#01e7f6"/><path d="M90.6 299.4L88.0 299.4" stroke="#06edf1"/></g>
<g fill="none" stroke-width="1.0" stroke-linecap="round" opacity="1"><path d="M116.8 108.7L117.7 111.2" stroke="#0094ff"/></g>
<g fill="none" stroke-width="1.0" stroke-linecap="round" opacity="1"><path d="M114.4 115.3L117.7 117.0" stroke="#0040ff"/><path d="M117.7 117.0L121.0 118.6" stroke="#0026ff"/><path d="M121.0 118.6L123.4 119.4" stroke="#0019ff"/><path d="M123.4 119.4L125.9 120.3" stroke="#0019ff"/><path d="M125.9 120.3L128.4 121.1" stroke="#0019ff"/><path d="M128.4 121.1L130.9 121.9" stroke="#0019ff"/><path d="M130.9 121.9L131.9 124.4" stroke="#0019ff"/><path d="M131.9 124.4L132.9 126.9" stroke="#0019ff"/><path d="M132.9 126.9L133.9 129.3" stroke="#0019ff"/><path d="M133.9 129.3L135.0 131.8" stroke="#0019ff"/><path d="M135.0 131.8L135.6 134.3" stroke="#0019ff"/><path d="M135.6 134.3L136.2 136.7" stroke="#0019ff"/><path d="M136.2 136.7L136.8 139.2" stroke="#0019ff"/><path d="M136.8 139.2L137.5 141.7" stroke="#0019ff"/><path d="M137.5 141.7L138.3 145.2" stroke="#0019ff"/><path d="M138.3 145.2L139.1 148.8" stroke="#0019ff"/><path d="M139.1 148.8L139.1 149.0" stroke="#0019ff"/><path d="M139.1 149.0L139.6 151.7" stroke="#0019ff"/><path d="M139.6 151.7L140.2 154.5" stroke="#0019ff"/><path d="M140.2 154.5L140.7 157.2" stroke="#0019ff"/><path d="M140.7 157.2L141.3 160.0" stroke="#0019ff"/><path d="M141.3 160.0L141.8 162.7" stroke="#0019ff"/><path d="M141.8 162.7L142.4 165.5" stroke="#0019ff"/><path d="M142.4 165.5L142.6 168.1" stroke="#0019ff"/><path d="M142.6 168.1L142.7 170.8" stroke="#0019ff"/><path d="M142.7 170.8L142.9 173.4" stroke="#0019ff"/><path d="M142.9 173.4L143.1 176.0" stroke="#0019ff"/><path d="M143.1 176.0L143.2 178.7" stroke="#0019ff"/><path d="M143.2 178.7L143.8 181.6" stroke="#0019ff"/><path d="M143.8 181.6L144.5 184.4" stroke="#0019ff"/><path d="M144.5 184.4L145.1 187.3" stroke="#0019ff"/><path d="M145.1 187.3L145.7 190.2" stroke="#0019ff"/><path d="M145.7 190.2L146.3 193.1" stroke="#0019ff"/><path d="M146.3 193.1L146.9 196.0" stroke="#0019ff"/><path d="M146.9 196.0L147.5 198.9" stroke="#0019ff"/><path d="M147.5 198.9L148.2 201.7" stroke="#0019ff"/><path d="M148.2 201.7L148.8 204.8" stroke="#0019ff"/><path d="M148.8 204.8L149.4 207.8" stroke="#0019ff"/><path d="M149.4 207.8L150.0 210.8" stroke="#0019ff"/><path d="M150.0 210.8L150.6 213.8" stroke="#0019ff"/><path d="M150.6 213.8L150.6 214.0" stroke="#000aff"/><path d="M150.6 214.0L151.0 216.5" stroke="#0000ff"/><path d="M151.0 216.5L151.5 218.9" stroke="#0000ff"/><path d="M151.5 218.9L151.9 221.4" stroke="#0000ff"/><path d="M151.9 221.4L152.3 223.9" stroke="#0000ff"/><path d="M152.3 223.9L152.7 226.4" stroke="#0000ff"/><path d="M152.7 226.4L153.1 228.8" stroke="#0000ff"/><path d="M153.1 228.8L153.5 231.3" stroke="#0000ff"/><path d="M153.5 231.3L153.9 233.8" stroke="#0000ff"/><path d="M153.9 233.8L154.3 236.3" stroke="#0000ff"/><path d="M154.3 236.3L154.8 238.7" stroke="#0000ff"/><path d="M154.8 238.7L155.0 241.5" stroke="#0000ff"/><path d="M155.0 241.5L155.3 244.2" stroke="#0000ff"/><path d="M155.3 244.2L155.6 247.0" stroke="#0000ff"/><path d="M155.6 247.0L155.9 249.7" stroke="#0000ff"/><path d="M155.9 249.7L156.1 252.5" stroke="#0000ff"/><path d="M156.1 252.5L156.4 255.2" stroke="#0000ff"/><path d="M156.4 255.2L156.7 258.1" stroke="#0000ff"/><path d="M156.7 258.1L157.0 261.0" stroke="#0000ff"/><path d="M157.0 261.0L157.2 263.9" stroke="#0000ff"/><path d="M157.2 263.9L158.1 264.0" stroke="#0000ff"/><path d="M158.1 264.0L158.2 266.7" stroke="#0000ff"/><path d="M158.2 266.7L158.3 269.5" stroke="#0000ff"/><path d="M158.3 269.5L158.5 272.2" stroke="#0000ff"/><path d="M158.5 272.2L158.6 275.0" stroke="#0000ff"/><path d="M158.6 275.0L158.7 277.7" stroke="#0000ff"/><path d="M158.7 277.7L158.9 280.5" stroke="#0000ff"/><path d="M158.9 280.5L159.1 283.6" stroke="#0000ff"/><path d="M159.1 283.6L159.3 286.7" stroke="#0000ff"/><path d="M159.3 286.7L159.5 289.8" stroke="#0000ff"/><path d="M159.5 289.8L159.7 292.8" stroke="#0000ff"/><path d="M159.7 292.8L156.7 293.1" stroke="#0008ff"/><path d="M156.7 293.1L153.7 293.4" stroke="#0024ff"/><path d="M153.7 293.4L150.6 293.7" stroke="#003fff"/><path d="M150.6 293.7L147.9 294.2" stroke="#0050ff"/><path d="M147.9 294.2L145.1 294.8" stroke="#0057ff"/><path d="M145.1 294.8L142.4 295.3" stroke="#005eff"/><path d="M142.4 295.3L139.6 295.3" stroke="#0066ff"/><path d="M139.6 295.3L136.9 295.3" stroke="#0070ff"/><path d="M136.9 295.3L134.2 295.3" stroke="#007aff"/><path d="M134.2 295.3L130.9 295.7" stroke="#0085ff"/><path d="M130.9 295.7L127.6 296.1" stroke="#008fff"/></g>
<g fill="none" stroke-width="1.0" stroke-linecap="round" opacity="1"><path d="M121.0 114.5L123.0 117.0" stroke="#c1ff35"/><path d="M123.0 117.0L125.1 119.4" stroke="#caff2d"/><path d="M125.1 119.4L128.4 121.9" stroke="#deff19"/><path d="M128.4 121.9L129.6 124.4" stroke="#ffe500"/><path d="M129.6 124.4L130.9 126.9" stroke="#ffb100"/><path d="M130.9 126.9L131.4 129.6" stroke="#ff9c00"/><path d="M131.4 129.6L132.0 132.4" stroke="#ffa500"/><path d="M132.0 132.4L132.5 135.1" stroke="#ffaf00"/><path d="M132.5 135.1L132.8 137.8" stroke="#ffb900"/><path d="M132.8 137.8L133.2 140.6" stroke="#ffc400"/><path d="M133.2 140.6L133.5 143.3" stroke="#ffd000"/><path d="M133.5 143.3L133.8 146.0" stroke="#ffdb00"/><path d="M133.8 146.0L134.2 148.8" stroke="#ffe600"/><path d="M134.2 148.8L135.0 149.0" stroke="#fbf100"/><path d="M135.0 149.0L135.5 151.6" stroke="#f7f600"/><path d="M135.5 151.6L136.0 154.3" stroke="#f7f600"/><path d="M136.0 154.3L136.5 156.9" stroke="#f7f600"/><path d="M136.5 156.9L137.0 159.5" stroke="#f7f600"/><path d="M137.0 159.5L137.5 162.2" stroke="#f7f600"/><path d="M137.5 162.2L137.9 164.7" stroke="#f7f600"/><path d="M137.9 164.7L138.3 167.1" stroke="#f7f600"/><path d="M138.3 167.1L138.7 169.6" stroke="#f7f600"/><path d="M138.7 169.6L139.1 172.1" stroke="#f7f600"/><path d="M139.1 172.1L139.5 174.5" stroke="#f7f600"/><path d="M139.5 174.5L139.9 177.0" stroke="#f7f600"/><path d="M139.9 177.0L140.4 179.7" stroke="#f7f600"/><path d="M140.4 179.7L140.9 182.3" stroke="#f7f600"/><path d="M140.9 182.3L141.4 184.9" stroke="#f7f600"/><path d="M141.4 184.9L141.9 187.6" stroke="#f7f600"/><path d="M141.9 187.6L142.4 190.2" stroke="#f7f600"/><path d="M142.4 190.2L142.8 192.7" stroke="#f2fb05"/><path d="M142.8 192.7L143.2 195.2" stroke="#e7ff0f"/><path d="M143.2 195.2L143.6 197.6" stroke="#ddff1a"/><path d="M143.6 197.6L144.0 200.1" stroke="#d3ff24"/><path d="M144.0 200.1L144.4 202.8" stroke="#baff3d"/><path d="M144.4 202.8L144.7 205.6" stroke="#92ff64"/><path d="M144.7 205.6L145.0 208.3" stroke="#6bff8c"/><path d="M145.0 208.3L145.4 211.0" stroke="#43ffb3"/><path d="M145.4 211.0L145.7 213.8" stroke="#1cffdb"/><path d="M145.7 213.8L146.0 214.0" stroke="#00d1ff"/><path d="M146.0 214.0L146.0 216.7" stroke="#00b0ff"/><path d="M146.0 216.7L145.9 219.5" stroke="#00abff"/><path d="M145.9 219.5L145.9 222.2" stroke="#00a6ff"/><path d="M145.9 222.2L145.8 225.0" stroke="#00a1ff"/><path d="M145.8 225.0L145.7 227.7" stroke="#009cff"/><path d="M145.7 227.7L145.7 230.5" stroke="#0096ff"/><path d="M145.7 230.5L145.6 233.2" stroke="#0094ff"/><path d="M145.6 233.2L145.4 236.0" stroke="#0094ff"/><path d="M145.4 236.0L145.3 238.7" stroke="#0094ff"/><path d="M145.3 238.7L145.1 241.5" stroke="#0094ff"/><path d="M145.1 241.5L145.0 244.2" stroke="#0094ff"/><path d="M145.0 244.2L144.9 247.0" stroke="#0094ff"/><path d="M144.9 247.0L144.7 249.7" stroke="#0094ff"/><path d="M144.7 249.7L144.6 252.5" stroke="#0094ff"/><path d="M144.6 252.5L144.5 255.2" stroke="#0094ff"/><path d="M144.5 255.2L144.3 258.0" stroke="#0094ff"/><path d="M144.3 258.0L144.2 260.7" stroke="#0094ff"/><path d="M144.2 260.7L144.0 263.5" stroke="#0094ff"/><path d="M144.0 263.5L146.5 264.0" stroke="#0094ff"/><path d="M146.5 264.0L146.6 266.8" stroke="#0094ff"/><path d="M146.6 266.8L146.8 269.7" stroke="#0094ff"/><path d="M146.8 269.7L146.9 272.5" stroke="#0094ff"/><path d="M146.9 272.5L147.0 275.3" stroke="#0094ff"/><path d="M147.0 275.3L147.1 278.1" stroke="#0094ff"/><path d="M147.1 278.1L147.2 281.0" stroke="#0094ff"/><path d="M147.2 281.0L147.3 283.8" stroke="#0094ff"/></g>
<g fill="none" stroke-width="1.0" stroke-linecap="round" opacity="1"><path d="M131.7 119.4L132.9 121.7" stroke="#ff8400"/><path d="M132.9 121.7L134.2 124.0" stroke="#ff8400"/><path d="M134.2 124.0L135.4 126.2" stroke="#ff8400"/><path d="M135.4 126.2L136.6 128.5" stroke="#ff8400"/><path d="M136.6 128.5L138.0 130.7" stroke="#ff8700"/><path d="M138.0 130.7L139.4 132.9" stroke="#ff8e00"/><path d="M139.4 132.9L140.7 135.1" stroke="#ff9400"/><path d="M140.7 135.1L142.0 137.6" stroke="#ffd200"/><path d="M142.0 137.6L143.2 140.0" stroke="#afff48"/></g>
<g fill="none" stroke-width="1.0" stroke-linecap="round" opacity="1"><path d="M136.6 149.0L137.1 151.6" stroke="#004dff"/><path d="M137.1 151.6L137.6 154.3" stroke="#004dff"/><path d="M137.6 154.3L138.1 156.9" stroke="#004dff"/><path d="M138.1 156.9L138.6 159.5" stroke="#004dff"/><path d="M138.6 159.5L139.1 162.2" stroke="#004dff"/><path d="M139.1 162.2L139.9 165.1" stroke="#004dff"/><path d="M139.9 165.1L140.7 168.0" stroke="#004dff"/><path d="M140.7 168.0L141.6 170.8" stroke="#004dff"/><path d="M141.6 170.8L142.4 173.7" stroke="#004dff"/><path d="M142.4 173.7L142.8 176.2" stroke="#004dff"/><path d="M142.8 176.2L143.2 178.7" stroke="#004dff"/><path d="M143.2 178.7L142.2 181.6" stroke="#0053ff"/><path d="M142.2 181.6L141.2 184.4" stroke="#0060ff"/><path d="M141.2 184.4L140.1 187.3" stroke="#006cff"/><path d="M140.1 187.3L139.1 190.2" stroke="#0079ff"/><path d="M139.1 190.2L138.3 193.1" stroke="#0082ff"/><path d="M138.3 193.1L137.5 196.0" stroke="#0087ff"/><path d="M137.5 196.0L136.6 198.9" stroke="#008cff"/><path d="M136.6 198.9L135.8 201.7" stroke="#0091ff"/><path d="M135.8 201.7L135.2 204.8" stroke="#0094ff"/><path d="M135.2 204.8L134.6 207.8" stroke="#0094ff"/><path d="M134.6 207.8L133.9 210.8" stroke="#0094ff"/><path d="M133.9 210.8L133.3 213.8" stroke="#0094ff"/><path d="M133.3 213.8L132.5 214.0" stroke="#0094ff"/><path d="M132.5 214.0L132.1 217.3" stroke="#0094ff"/><path d="M132.1 217.3L131.7 220.6" stroke="#0094ff"/><path d="M131.7 220.6L132.3 223.1" stroke="#0094ff"/><path d="M132.3 223.1L132.9 225.5" stroke="#0094ff"/><path d="M132.9 225.5L133.5 228.0" stroke="#0094ff"/><path d="M133.5 228.0L134.2 230.5" stroke="#0094ff"/><path d="M134.2 230.5L134.6 233.2" stroke="#0094ff"/><path d="M134.6 233.2L135.0 236.0" stroke="#0094ff"/><path d="M135.0 236.0L135.4 238.7" stroke="#0094ff"/><path d="M135.4 238.7L135.8 241.5" stroke="#0094ff"/><path d="M135.8 241.5L136.2 244.2" stroke="#0094ff"/><path d="M136.2 244.2L136.6 247.0" stroke="#0094ff"/><path d="M136.6 247.0L136.8 249.8" stroke="#0094ff"/><path d="M136.8 249.8L136.9 252.6" stroke="#0094ff"/><path d="M136.9 252.6L137.0 255.5" stroke="#0094ff"/><path d="M137.0 255.5L137.2 258.3" stroke="#0094ff"/><path d="M137.2 258.3L137.3 261.1" stroke="#0094ff"/><path d="M137.3 261.1L137.5 263.9" stroke="#0094ff"/><path d="M137.5 263.9L137.5 264.0" stroke="#0070ff"/><path d="M137.5 264.0L137.6 266.7" stroke="#0048ff"/><path d="M137.6 266.7L137.7 269.5" stroke="#0040ff"/><path d="M137.7 269.5L137.9 272.2" stroke="#0037ff"/><path d="M137.9 272.2L138.0 275.0" stroke="#002fff"/><path d="M138.0 275.0L138.1 277.7" stroke="#0026ff"/><path d="M138.1 277.7L138.3 280.5" stroke="#001eff"/><path d="M138.3 280.5L138.3 283.1" stroke="#0019ff"/><path d="M138.3 283.1L138.3 285.8" stroke="#0019ff"/><path d="M138.3 285.8L138.3 288.4" stroke="#0019ff"/><path d="M138.3 288.4L138.3 291.0" stroke="#0019ff"/><path d="M138.3 291.0L138.3 293.7" stroke="#0019ff"/><path d="M138.3 293.7L138.5 296.3" stroke="#0019ff"/><path d="M138.5 296.3L138.8 298.9" stroke="#0019ff"/><path d="M138.8 298.9L139.1 301.6" stroke="#0019ff"/><path d="M139.1 301.6L135.8 301.6" stroke="#002aff"/><path d="M135.8 301.6L132.5 301.6" stroke="#004dff"/><path d="M132.5 301.6L129.2 301.6" stroke="#006eff"/><path d="M129.2 301.6L126.5 302.0" stroke="#0083ff"/><path d="M126.5 302.0L123.7 302.4" stroke="#008aff"/><path d="M123.7 302.4L121.0 302.7" stroke="#0090ff"/><path d="M121.0 302.7L118.5 302.3" stroke="#0098ff"/><path d="M118.5 302.3L116.0 301.9" stroke="#009fff"/><path d="M116.0 301.9L113.5 301.5" stroke="#00a7ff"/><path d="M113.5 301.5L111.1 301.1" stroke="#00afff"/><path d="M111.1 301.1L108.2 301.2" stroke="#00b6ff"/><path d="M108.2 301.2L105.3 301.3" stroke="#00beff"/><path d="M105.3 301.3L102.4 301.5" stroke="#00c6ff"/><path d="M102.4 301.5L99.5 301.6" stroke="#00cdff"/><path d="M99.5 301.6L96.7 301.5" stroke="#00d5ff"/><path d="M96.7 301.5L93.8 301.3" stroke="#00ddfe"/><path d="M93.8 301.3L90.9 301.2" stroke="#00e4f8"/><path d="M90.9 301.2L88.0 301.1" stroke="#05ecf2"/></g>
<g fill="none" stroke-width="1.0" stroke-linecap="round" opacity="1"><path d="M140.7 287.1L138.0 288.5" stroke="#00b8ff"/><path d="M138.0 288.5L135.3 289.8" stroke="#00c2ff"/><path d="M135.3 289.8L132.5 291.2" stroke="#00ccff"/><path d="M132.5 291.2L129.8 292.6" stroke="#00d5ff"/><path d="M129.8 292.6L127.0 293.9" stroke="#00dbff"/><path d="M127.0 293.9L124.3 295.3" stroke="#00e2fa"/><path d="M124.3 295.3L121.4 296.3" stroke="#01e7f6"/><path d="M121.4 296.3L118.5 297.4" stroke="#03e9f4"/><path d="M118.5 297.4L115.6 298.4" stroke="#05ecf2"/><path d="M115.6 298.4L112.7 299.4" stroke="#07eef0"/><path d="M112.7 299.4L109.8 299.7" stroke="#09f1ee"/><path d="M109.8 299.7L107.0 300.0" stroke="#0bf4eb"/><path d="M107.0 300.0L104.1 300.3" stroke="#0df6e9"/><path d="M104.1 300.3L101.2 300.6" stroke="#0ff9e7"/><path d="M101.2 300.6L98.5 300.7" stroke="#11fbe6"/><path d="M98.5 300.7L95.9 300.8" stroke="#13fde4"/><path d="M95.9 300.8L93.3 300.9" stroke="#15ffe2"/><path d="M93.3 300.9L90.6 301.0" stroke="#16ffe1"/><path d="M90.6 301.0L88.0 301.1" stroke="#18ffdf"/></g>
<g fill="none" stroke-width="1.0" stroke-linecap="round" opacity="1"><path d="M67.6 172.1L67.6 173.7" stroke="#0019ff"/><path d="M67.6 173.7L68.4 176.6" stroke="#0019ff"/><path d="M68.4 176.6L69.2 179.5" stroke="#0019ff"/><path d="M69.2 179.5L71.1 181.1" stroke="#0014ff"/><path d="M71.1 181.1L73.1 182.8" stroke="#000aff"/><path d="M73.1 182.8L75.0 184.4" stroke="#0000ff"/><path d="M75.0 184.4L75.4 188.1" stroke="#0000ff"/><path d="M75.4 188.1L75.8 191.9" stroke="#0000ff"/><path d="M75.8 191.9L76.0 194.7" stroke="#0005ff"/><path d="M76.0 194.7L76.2 197.6" stroke="#0019ff"/><path d="M76.2 197.6L76.4 200.5" stroke="#002eff"/><path d="M76.4 200.5L76.6 203.4" stroke="#0042ff"/><path d="M76.6 203.4L76.8 206.0" stroke="#0055ff"/><path d="M76.8 206.0L77.0 208.6" stroke="#0067ff"/><path d="M77.0 208.6L77.2 211.2" stroke="#0079ff"/><path d="M77.2 211.2L77.5 213.8" stroke="#008bff"/><path d="M77.5 213.8L77.5 214.0" stroke="#0094ff"/><path d="M77.5 214.0L77.0 216.5" stroke="#0098ff"/><path d="M77.0 216.5L76.6 218.9" stroke="#009fff"/><path d="M76.6 218.9L76.2 221.4" stroke="#00a7ff"/><path d="M76.2 221.4L75.8 223.9" stroke="#00afff"/><path d="M75.8 223.9L75.0 226.8" stroke="#00c6ff"/><path d="M75.0 226.8L74.2 229.7" stroke="#05ecf2"/><path d="M74.2 229.7L73.3 232.5" stroke="#24ffd3"/><path d="M73.3 232.5L72.5 235.4" stroke="#43ffb4"/><path d="M72.5 235.4L71.7 238.3" stroke="#57ff9f"/><path d="M71.7 238.3L70.9 241.2" stroke="#62ff95"/><path d="M70.9 241.2L70.0 244.1" stroke="#6cff8b"/><path d="M70.0 244.1L69.2 247.0" stroke="#76ff81"/><path d="M69.2 247.0L68.4 249.9" stroke="#7bff7b"/><path d="M68.4 249.9L67.6 252.7" stroke="#7bff7b"/><path d="M67.6 252.7L66.7 255.6" stroke="#7bff7b"/><path d="M66.7 255.6L65.9 258.5" stroke="#7bff7b"/><path d="M65.9 258.5L65.1 261.4" stroke="#7bff7b"/><path d="M65.1 261.4L64.3 264.3" stroke="#7bff7b"/><path d="M64.3 264.3L63.4 267.2" stroke="#7bff7b"/><path d="M63.4 267.2L62.6 270.0" stroke="#7bff7b"/><path d="M62.6 270.0L62.6 273.9" stroke="#7bff7b"/><path d="M62.6 273.9L62.8 276.8" stroke="#7bff7b"/><path d="M62.8 276.8L63.0 279.7" stroke="#7bff7b"/><path d="M63.0 279.7L63.2 282.5" stroke="#7bff7b"/><path d="M63.2 282.5L63.4 285.4" stroke="#7bff7b"/><path d="M63.4 285.4L63.7 288.5" stroke="#7bff7b"/><path d="M63.7 288.5L64.0 291.5" stroke="#7bff7b"/><path d="M64.0 291.5L64.3 294.5" stroke="#7bff7b"/><path d="M64.3 294.5L66.7 297.0" stroke="#80ff77"/><path d="M66.7 297.0L69.2 299.4" stroke="#88ff6f"/><path d="M69.2 299.4L72.1 301.5" stroke="#92ff65"/><path d="M72.1 301.5L75.0 303.6" stroke="#9eff58"/><path d="M75.0 303.6L77.9 303.1" stroke="#90ff67"/><path d="M77.9 303.1L80.7 302.7" stroke="#67ff90"/><path d="M80.7 302.7L83.4 302.4" stroke="#48ffae"/><path d="M83.4 302.4L86.0 302.1" stroke="#35ffc2"/><path d="M86.0 302.1L88.7 301.7" stroke="#21ffd6"/><path d="M88.7 301.7L91.3 301.4" stroke="#0df6ea"/><path d="M91.3 301.4L93.9 301.1" stroke="#00ddfd"/><path d="M93.9 301.1L96.6 301.1" stroke="#00c9ff"/><path d="M96.6 301.1L99.2 301.1" stroke="#00b9ff"/><path d="M99.2 301.1L101.8 301.1" stroke="#00a8ff"/><path d="M101.8 301.1L104.5 301.1" stroke="#0098ff"/><path d="M104.5 301.1L107.1 301.1" stroke="#0088ff"/><path d="M107.1 301.1L109.8 300.9" stroke="#0079ff"/><path d="M109.8 300.9L112.6 300.7" stroke="#006cff"/><path d="M112.6 300.7L115.3 300.5" stroke="#0060ff"/><path d="M115.3 300.5L118.0 300.3" stroke="#0053ff"/></g>
<g fill="none" stroke-width="1.0" stroke-linecap="round" opacity="1"><path d="M63.4 176.2L64.5 179.2" stroke="#00b8ff"/><path d="M64.5 179.2L65.6 182.2" stroke="#00c2ff"/><path d="M65.6 182.2L66.7 185.3" stroke="#00ccff"/><path d="M66.7 185.3L67.1 187.7" stroke="#00d5ff"/><path d="M67.1 187.7L67.6 190.2" stroke="#00ddfe"/><path d="M67.6 190.2L68.0 192.7" stroke="#00e4f8"/><path d="M68.0 192.7L68.4 195.2" stroke="#05ecf2"/><path d="M68.4 195.2L68.8 197.6" stroke="#08f0ef"/><path d="M68.8 197.6L69.2 200.1" stroke="#08f0ef"/><path d="M69.2 200.1L69.6 202.6" stroke="#08f0ef"/><path d="M69.6 202.6L70.0 205.0" stroke="#08f0ef"/><path d="M70.0 205.0L70.4 208.0" stroke="#08f0ef"/><path d="M70.4 208.0L70.8 210.9" stroke="#08f0ef"/><path d="M70.8 210.9L71.2 213.8" stroke="#08f0ef"/><path d="M71.2 213.8L71.2 214.0" stroke="#08f0ef"/><path d="M71.2 214.0L71.6 217.3" stroke="#22ffd5"/><path d="M71.6 217.3L72.1 220.6" stroke="#56ffa0"/><path d="M72.1 220.6L72.5 223.9" stroke="#8aff6c"/><path d="M72.5 223.9L72.9 226.4" stroke="#a1ff56"/><path d="M72.9 226.4L73.3 228.8" stroke="#9aff5d"/><path d="M73.3 228.8L73.7 231.3" stroke="#93ff63"/><path d="M73.7 231.3L74.2 233.8" stroke="#8dff6a"/><path d="M74.2 233.8L74.6 236.3" stroke="#86ff71"/><path d="M74.6 236.3L75.0 238.7" stroke="#7fff78"/><path d="M75.0 238.7L75.1 241.5" stroke="#72ff85"/><path d="M75.1 241.5L75.3 244.2" stroke="#5fff98"/><path d="M75.3 244.2L75.4 247.0" stroke="#4bffab"/><path d="M75.4 247.0L75.5 249.7" stroke="#38ffbf"/><path d="M75.5 249.7L75.7 252.5" stroke="#25ffd2"/><path d="M75.7 252.5L75.8 255.2" stroke="#12fce5"/><path d="M75.8 255.2L75.8 258.1" stroke="#00e5f7"/><path d="M75.8 258.1L75.8 261.0" stroke="#00d1ff"/><path d="M75.8 261.0L75.8 263.9" stroke="#00bdff"/><path d="M75.8 263.9L75.8 264.0" stroke="#00b2ff"/><path d="M75.8 264.0L75.8 266.6" stroke="#00b6ff"/><path d="M75.8 266.6L75.8 269.3" stroke="#00bcff"/><path d="M75.8 269.3L75.8 271.9" stroke="#00c2ff"/><path d="M75.8 271.9L75.8 274.5" stroke="#00c8ff"/><path d="M75.8 274.5L75.8 277.2" stroke="#00ceff"/><path d="M75.8 277.2L75.9 280.1" stroke="#00d4ff"/><path d="M75.9 280.1L76.0 283.0" stroke="#00d9ff"/><path d="M76.0 283.0L76.0 285.8" stroke="#00defd"/><path d="M76.0 285.8L76.1 288.7" stroke="#00e3f9"/><path d="M76.1 288.7L77.7 291.2" stroke="#00e2fa"/><path d="M77.7 291.2L79.2 293.7" stroke="#00dbff"/><path d="M79.2 293.7L80.7 296.1" stroke="#00d5ff"/><path d="M80.7 296.1L83.4 296.3" stroke="#00ceff"/><path d="M83.4 296.3L86.0 296.5" stroke="#00c8ff"/><path d="M86.0 296.5L88.7 296.6" stroke="#00c2ff"/><path d="M88.7 296.6L91.3 296.8" stroke="#00bcff"/><path d="M91.3 296.8L93.9 297.0" stroke="#00b6ff"/><path d="M93.9 297.0L96.6 297.1" stroke="#00adff"/><path d="M96.6 297.1L99.2 297.3" stroke="#00a3ff"/><path d="M99.2 297.3L101.8 297.5" stroke="#0099ff"/><path d="M101.8 297.5L104.5 297.6" stroke="#008fff"/><path d="M104.5 297.6L107.1 297.8" stroke="#0085ff"/><path d="M107.1 297.8L109.8 297.6" stroke="#0079ff"/><path d="M109.8 297.6L112.6 297.4" stroke="#006cff"/><path d="M112.6 297.4L115.3 297.2" stroke="#0060ff"/><path d="M115.3 297.2L118.0 297.0" stroke="#0053ff"/></g>
<g fill="none" stroke-width="1.0" stroke-linecap="round" opacity="1"><path d="M56.8 177.0L58.9 179.5" stroke="#52ffa5"/><path d="M58.9 179.5L61.0 182.0" stroke="#52ffa5"/><path d="M61.0 182.0L61.8 184.7" stroke="#52ffa5"/><path d="M61.8 184.7L62.6 187.5" stroke="#52ffa5"/><path d="M62.6 187.5L63.4 190.2" stroke="#52ffa5"/><path d="M63.4 190.2L64.3 193.1" stroke="#52ffa5"/><path d="M64.3 193.1L65.1 196.0" stroke="#52ffa5"/><path d="M65.1 196.0L65.9 198.9" stroke="#52ffa5"/><path d="M65.9 198.9L66.7 201.7" stroke="#52ffa5"/><path d="M66.7 201.7L67.4 204.8" stroke="#4fffa8"/><path d="M67.4 204.8L68.0 207.8" stroke="#49ffae"/><path d="M68.0 207.8L68.6 210.8" stroke="#43ffb4"/><path d="M68.6 210.8L69.2 213.8" stroke="#3dffba"/><path d="M69.2 213.8L70.0 214.0" stroke="#31ffc5"/><path d="M70.0 214.0L70.6 217.3" stroke="#29ffce"/><path d="M70.6 217.3L71.2 220.6" stroke="#29ffce"/></g>
<g fill="none" stroke-width="1.0" stroke-linecap="round" opacity="1"><path d="M75.0 238.7L74.2 241.4" stroke="#73ff84"/><path d="M74.2 241.4L73.3 244.0" stroke="#63ff94"/><path d="M73.3 244.0L72.5 246.6" stroke="#52ffa5"/><path d="M72.5 246.6L71.7 249.3" stroke="#42ffb5"/><path d="M71.7 249.3L70.9 251.9" stroke="#31ffc5"/><path d="M70.9 251.9L70.0 254.8" stroke="#25ffd2"/><path d="M70.0 254.8L69.2 257.7" stroke="#1dffda"/><path d="M69.2 257.7L68.4 260.6" stroke="#15ffe2"/><path d="M68.4 260.6L67.6 263.5" stroke="#0cf5ea"/><path d="M67.6 263.5L67.1 266.7" stroke="#15ffe2"/><path d="M67.1 266.7L66.7 270.0" stroke="#2dffca"/><path d="M66.7 270.0L67.1 272.9" stroke="#4affad"/><path d="M67.1 272.9L67.6 275.8" stroke="#6bff8c"/><path d="M67.6 275.8L72.5 275.3" stroke="#7bff7b"/></g>
<g fill="none" stroke-width="1.0" stroke-linecap="round" opacity="1"><path d="M70.9 256.9L71.0 260.4" stroke="#004dff"/><path d="M71.0 260.4L71.2 263.9" stroke="#004dff"/><path d="M71.2 263.9L72.5 264.0" stroke="#009eff"/><path d="M72.5 264.0L72.5 266.6" stroke="#08f0ef"/><path d="M72.5 266.6L72.5 269.3" stroke="#08f0ef"/><path d="M72.5 269.3L72.5 271.9" stroke="#08f0ef"/><path d="M72.5 271.9L72.5 274.5" stroke="#08f0ef"/><path d="M72.5 274.5L72.5 277.2" stroke="#08f0ef"/><path d="M72.5 277.2L72.7 280.3" stroke="#08f0ef"/><path d="M72.7 280.3L72.9 283.4" stroke="#08f0ef"/><path d="M72.9 283.4L73.1 286.5" stroke="#08f0ef"/><path d="M73.1 286.5L73.3 289.5" stroke="#08f0ef"/><path d="M73.3 289.5L75.4 292.0" stroke="#08f0ef"/><path d="M75.4 292.0L77.5 294.5" stroke="#08f0ef"/><path d="M77.5 294.5L79.5 296.6" stroke="#02e8f5"/><path d="M79.5 296.6L81.6 298.6" stroke="#00d9ff"/><path d="M81.6 298.6L84.7 298.4" stroke="#00cdff"/><path d="M84.7 298.4L87.8 298.2" stroke="#00c6ff"/><path d="M87.8 298.2L90.8 298.0" stroke="#00beff"/><path d="M90.8 298.0L93.9 297.8" stroke="#00b6ff"/><path d="M93.9 297.8L96.6 297.9" stroke="#00adff"/><path d="M96.6 297.9L99.2 298.0" stroke="#00a3ff"/><path d="M99.2 298.0L101.8 298.1" stroke="#0099ff"/><path d="M101.8 298.1L104.5 298.2" stroke="#008fff"/><path d="M104.5 298.2L107.1 298.3" stroke="#0085ff"/><path d="M107.1 298.3L109.8 298.0" stroke="#0079ff"/><path d="M109.8 298.0L112.6 297.6" stroke="#006cff"/><path d="M112.6 297.6L115.3 297.3" stroke="#0060ff"/><path d="M115.3 297.3L118.0 297.0" stroke="#0053ff"/></g>
<g fill="none" stroke-width="1.0" stroke-linecap="round" opacity="1"><path d="M71.7 275.2L66.7 274.5" stroke="#7bff7b"/><path d="M66.7 274.5L64.8 276.3" stroke="#82ff75"/><path d="M64.8 276.3L62.9 278.0" stroke="#90ff67"/><path d="M62.9 278.0L61.0 279.7" stroke="#9eff59"/><path d="M61.0 279.7L58.8 282.1" stroke="#abff4b"/><path d="M58.8 282.1L56.6 284.6" stroke="#b9ff3e"/><path d="M56.6 284.6L54.4 287.1" stroke="#c7ff30"/><path d="M54.4 287.1L52.5 288.9" stroke="#d2ff25"/><path d="M52.5 288.9L50.7 290.8" stroke="#daff1d"/><path d="M50.7 290.8L48.8 292.6" stroke="#e2ff15"/><path d="M48.8 292.6L47.0 294.5" stroke="#eaff0c"/></g>
<g fill="none" stroke-width="1.0" stroke-linecap="round" opacity="1"><path d="M66.7 264.0L66.6 266.9" stroke="#7bff7b"/><path d="M66.6 266.9L66.5 269.8" stroke="#7bff7b"/><path d="M66.5 269.8L66.4 272.7" stroke="#7bff7b"/><path d="M66.4 272.7L66.2 275.5" stroke="#7bff7b"/><path d="M66.2 275.5L66.0 278.2" stroke="#7bff7b"/><path d="M66.0 278.2L65.8 280.8" stroke="#7bff7b"/><path d="M65.8 280.8L65.5 283.5" stroke="#7bff7b"/><path d="M65.5 283.5L65.3 286.1" stroke="#7bff7b"/><path d="M65.3 286.1L65.1 288.7" stroke="#7bff7b"/><path d="M65.1 288.7L65.3 292.0" stroke="#7bff7b"/><path d="M65.3 292.0L65.6 295.3" stroke="#7bff7b"/><path d="M65.6 295.3L67.9 297.5" stroke="#7bff7b"/><path d="M67.9 297.5L70.2 299.7" stroke="#7bff7b"/><path d="M70.2 299.7L72.5 301.9" stroke="#7bff7b"/><path d="M72.5 301.9L75.3 302.4" stroke="#7bff7b"/><path d="M75.3 302.4L78.0 302.8" stroke="#7bff7b"/><path d="M78.0 302.8L80.7 303.2" stroke="#7bff7b"/></g>
<g fill="none" stroke-width="1.0" stroke-linecap="round" opacity="1"><path d="M60.6 176.2L63.0 177.0" stroke="#0cf5ea"/><path d="M63.0 177.0L66.3 176.2" stroke="#00a8ff"/><path d="M66.3 176.2L69.8 176.6" stroke="#005cff"/></g>
<g fill="none" stroke-width="1.0" stroke-linecap="round" opacity="1"><path d="M63.5 174.8L66.0 178.6" stroke="#0099ff"/></g>
<g fill="none" stroke-width="1.0" stroke-linecap="round" opacity="1"><path d="M64.5 178.8L66.5 175.0" stroke="#0080ff"/><path d="M66.5 175.0L68.0 171.7" stroke="#0033ff"/></g>
<g fill="none" stroke-width="1.0" stroke-linecap="round" opacity="1"><path d="M66.5 173.5L67.0 176.0" stroke="#0042ff"/><path d="M67.0 176.0L67.6 178.5" stroke="#0057ff"/></g>
<g fill="none" stroke-width="1.0" stroke-linecap="round" opacity="1"><path d="M62.0 178.3L65.5 176.0" stroke="#00a8ff"/><path d="M65.5 176.0L69.0 174.8" stroke="#004dff"/></g>
<g fill="none" stroke-width="1.0" stroke-linecap="round" opacity="1"><path d="M56.5 176.2L60.6 178.7" stroke="#52ffa5"/></g>
<g fill="none" stroke-width="1.0" stroke-linecap="round" opacity="1"><path d="M64.0 176.4L68.5 176.4" stroke="#0066ff"/></g>
<g fill="none" stroke-width="1.0" stroke-linecap="round" opacity="1"><path d="M64.0 177.2L68.5 177.2" stroke="#0070ff"/></g>
<g fill="none" stroke-width="1.0" stroke-linecap="round" opacity="1"><path d="M67.1 178.7L67.3 182.0" stroke="#004dff"/><path d="M67.3 182.0L67.4 185.2" stroke="#004dff"/><path d="M67.4 185.2L67.6 188.5" stroke="#004dff"/><path d="M67.6 188.5L70.4 192.6" stroke="#0066ff"/><path d="M70.4 192.6L72.0 195.0" stroke="#008aff"/><path d="M72.0 195.0L72.5 197.5" stroke="#009cff"/><path d="M72.5 197.5L73.0 200.0" stroke="#00abff"/></g>
<g fill="none" stroke-width="1.0" stroke-linecap="round" opacity="1"><path d="M61.0 176.8L63.5 178.5" stroke="#19ffde"/><path d="M63.5 178.5L65.0 183.0" stroke="#08f0ef"/></g>
</g>
<rect x="321" y="22.6" width="134.6" height="305.3" fill="#eaeaf2"/>
<path d="M323.5 22.6V327.9M347.4 22.6V327.9M371.3 22.6V327.9M395.1 22.6V327.9M419.0 22.6V327.9M442.9 22.6V327.9M321.0 282.6H455.6M321.0 235.1H455.6M321.0 187.6H455.6M321.0 140.2H455.6M321.0 92.7H455.6M321.0 45.2H455.6" stroke="#fff" stroke-width="0.8" fill="none" opacity="0.9"/>
<g font-size="6.8" text-anchor="middle">
<text x="323.5" y="339.1">−1</text>
<text x="347.4" y="339.1">0</text>
<text x="371.3" y="339.1">1</text>
<text x="395.1" y="339.1">2</text>
<text x="419.0" y="339.1">3</text>
<text x="442.9" y="339.1">4</text>
</g><g font-size="6.8" text-anchor="end">
<text x="315.6" y="285.1">0</text>
<text x="315.6" y="237.6">2</text>
<text x="315.6" y="190.1">4</text>
<text x="315.6" y="142.7">6</text>
<text x="315.6" y="95.2">8</text>
<text x="315.6" y="47.7">10</text>
</g>
<text x="388.9" y="348.4" font-size="6.9" text-anchor="middle"><tspan font-style="italic">x</tspan> (m)</text>
<text transform="translate(303.8 175.2) rotate(-90)" font-size="6.9" text-anchor="middle"><tspan font-style="italic">y</tspan> (m)</text>
<g clip-path="url(#cb)">
<g fill="none" stroke="#5a5a5a" stroke-width="1.05" stroke-dasharray="3 1.3" opacity="0.92">
<path d="M365.3 66.5L361.2 57.4L357.1 50.0L352.1 43.4L344.7 41.0L339.8 42.6L335.7 47.5L337.3 51.7L340.6 53.3L339.8 56.6L349.7 63.2L357.9 69.8L363.7 73.9L366.2 79.7L367.8 86.8L366.2 84.0L366.2 97.2L365.3 110.4L363.7 122.7L369.5 125.2L376.0 126.0"/>
<path d="M362.0 61.6L357.9 53.3L354.6 48.4L348.8 47.5"/>
<path d="M340.6 53.3L343.9 57.4L353.0 63.2"/>
<path d="M366.2 97.2L357.9 108.7L348.8 119.4L350.5 123.6L348.0 126.9"/>
<path d="M348.8 119.4L354.6 126.0L364.5 128.5L376.0 127.7L385.9 123.6L394.2 118.6L402.4 112.0L407.4 103.8L406.4 100.5L406.4 84.0"/>
<path d="M372.7 113.7L382.6 115.3L390.9 117.8L400.8 121.1L410.0 123.6L410.0 123.6L413.0 126.9L417.1 133.5L422.9 148.8"/>
<path d="M374.4 123.6L394.2 126.0L401.4 127.7L409.7 128.5L414.6 133.5L418.7 148.8"/>
<path d="M406.4 100.5L409.7 110.4L414.6 120.3L419.6 130.2L424.5 140.0L428.6 148.8L431.1 149.0L436.0 165.5L441.0 184.4L438.5 195.2L436.0 213.8L435.2 230.5L434.4 247.0L433.6 263.9L435.2 264.0L435.2 292.8"/>
<path d="M403.1 81.3L404.7 71.5L409.7 58.3L415.4 50.8L421.2 43.4L426.2 41.0L434.4 40.1L447.6 41.5"/>
<path d="M439.3 54.1L429.5 59.9L419.6 69.8L411.3 79.7L407.2 86.8"/>
<path d="M438.5 42.6L427.8 54.1L415.4 69.8L408.8 79.7"/>
<path d="M434.4 41.0L436.9 46.7L439.7 54.1"/>
<path d="M404.7 85.5L406.0 74.7L408.8 63.2L413.8 54.1L419.6 46.7L425.3 42.1L432.7 41.1"/>
<path d="M403.1 84.0L403.4 93.9L404.7 102.1L408.4 111.2L413.0 121.1L418.2 131.0L423.2 140.9L427.0 148.8"/>
<path d="M422.0 153.9L425.3 170.4L427.8 186.9L425.3 198.5L422.9 213.8L422.0 214.0L419.6 227.2L421.2 247.0L423.7 263.9L425.3 264.0L426.2 311.0L404.7 310.2L380.0 308.5"/>
<path d="M437.7 214.0L440.2 230.5L443.5 251.9L445.9 263.9L445.9 264.0L447.6 301.9L429.5 303.6L413.0 304.4L396.5 306.5L380.0 307.7L410.0 303.6L397.5 305.2L382.6 306.0L366.2 307.2"/>
<path d="M345.5 282.1L336.5 292.0L326.6 302.7"/>
<path d="M344.7 264.0L342.3 275.5L344.7 282.1L344.7 293.7L347.2 305.2L357.1 314.3L365.3 312.6"/>
<path d="M338.1 180.3L346.4 177.8L353.0 174.5"/>
<path d="M341.6 182.6L344.2 192.8L348.0 205.5L351.8 217.0L354.0 222.0"/>
<path d="M344.7 177.0L350.5 182.8"/>
<path d="M355.4 184.4L362.0 188.6L363.7 198.5L362.9 213.8L363.7 214.0L363.2 227.2L360.4 237.1L357.1 250.3L352.1 261.8L346.4 271.7L342.3 275.0"/>
</g>
<g fill="none" stroke="#505050" stroke-linejoin="round" opacity="0.9">
<path d="M338.0 180.4L343.0 179.0L348.0 177.0L353.0 174.5" stroke-width="0.9"/>
<path d="M341.0 178.0L346.0 181.5L351.0 180.0L354.0 183.0" stroke-width="0.9"/>
<path d="M342.0 183.0L347.0 179.5L351.0 183.5" stroke-width="0.9"/>
<path d="M344.0 176.5L348.0 181.0L352.0 178.0" stroke-width="0.8"/>
<path d="M341.5 184.0L341.8 191.0" stroke-width="0.8"/>
<path d="M422.5 39.6L428.0 39.2L433.0 39.8L438.0 39.3L443.0 40.0L447.0 40.6" stroke-width="1.2"/>
<path d="M424.0 38.6L430.0 38.3L436.0 38.6" stroke-width="1.0"/>
</g>
<g fill="none" stroke-width="1.0" stroke-linecap="round" opacity="1"><path d="M339.8 46.7L340.6 44.3" stroke="#ff4400"/><path d="M340.6 44.3L341.4 41.8" stroke="#ff5c00"/><path d="M341.4 41.8L344.7 38.5" stroke="#ff7600"/><path d="M344.7 38.5L349.7 38.5" stroke="#ffb800"/><path d="M349.7 38.5L353.8 36.8" stroke="#e6ff10"/><path d="M353.8 36.8L355.4 38.9" stroke="#b9ff3e"/><path d="M355.4 38.9L357.1 41.0" stroke="#90ff67"/><path d="M357.1 41.0L359.6 42.6" stroke="#71ff86"/><path d="M359.6 42.6L362.0 44.3" stroke="#5dff9a"/><path d="M362.0 44.3L362.9 47.1" stroke="#48ffaf"/><path d="M362.9 47.1L363.7 50.0" stroke="#33ffc3"/><path d="M363.7 50.0L364.5 52.8" stroke="#0ef7e9"/><path d="M364.5 52.8L365.3 55.5" stroke="#00b3ff"/><path d="M365.3 55.5L366.2 58.3" stroke="#006fff"/><path d="M366.2 58.3L367.3 61.0" stroke="#0038ff"/><path d="M367.3 61.0L368.4 63.8" stroke="#000fff"/><path d="M368.4 63.8L369.5 66.5" stroke="#0000f3"/><path d="M369.5 66.5L370.3 69.8" stroke="#0000f1"/><path d="M370.3 69.8L371.1 73.1" stroke="#0008ff"/><path d="M371.1 73.1L370.3 76.4" stroke="#0019ff"/><path d="M370.3 76.4L369.5 79.7" stroke="#0019ff"/><path d="M369.5 79.7L369.0 83.2" stroke="#0026ff"/><path d="M369.0 83.2L368.6 86.8" stroke="#0040ff"/></g>
<g fill="none" stroke-width="1.0" stroke-linecap="round" opacity="1"><path d="M339.8 46.7L342.3 49.2" stroke="#ff5000"/><path d="M342.3 49.2L344.7 45.9" stroke="#ff7100"/><path d="M344.7 45.9L348.0 44.7" stroke="#ff9700"/><path d="M348.0 44.7L351.3 43.4" stroke="#ffd000"/><path d="M351.3 43.4L354.2 45.1" stroke="#fdee00"/><path d="M354.2 45.1L357.1 46.7" stroke="#f9f300"/><path d="M357.1 46.7L358.5 48.9" stroke="#e5ff12"/><path d="M358.5 48.9L359.8 51.1" stroke="#c1ff35"/><path d="M359.8 51.1L361.2 53.3" stroke="#9eff59"/><path d="M361.2 53.3L362.6 56.1" stroke="#89ff6e"/><path d="M362.6 56.1L364.0 58.8" stroke="#84ff73"/><path d="M364.0 58.8L365.3 61.6" stroke="#7eff79"/><path d="M365.3 61.6L366.2 64.3" stroke="#70ff86"/><path d="M366.2 64.3L367.0 67.1" stroke="#5aff9c"/><path d="M367.0 67.1L367.8 69.8" stroke="#45ffb2"/><path d="M367.8 69.8L368.1 72.5" stroke="#29ffce"/><path d="M368.1 72.5L368.4 75.3" stroke="#08f0ef"/><path d="M368.4 75.3L368.6 78.0" stroke="#00c7ff"/></g>
<g fill="none" stroke-width="1.0" stroke-linecap="round" opacity="1"><path d="M342.3 49.2L343.1 51.7" stroke="#ff6d00"/><path d="M343.1 51.7L343.9 54.1" stroke="#ff7600"/><path d="M343.9 54.1L346.8 55.4" stroke="#ff7d00"/><path d="M346.8 55.4L349.7 56.6" stroke="#ff8200"/><path d="M349.7 56.6L352.6 57.4" stroke="#ff9900"/><path d="M352.6 57.4L355.4 58.3" stroke="#ffc400"/><path d="M355.4 58.3L357.1 60.5" stroke="#ffde00"/><path d="M357.1 60.5L358.7 62.7" stroke="#ffe700"/><path d="M358.7 62.7L360.4 64.9" stroke="#fbf100"/><path d="M360.4 64.9L362.4 67.3" stroke="#ecff0a"/><path d="M362.4 67.3L364.5 69.8" stroke="#d8ff1f"/><path d="M364.5 69.8L365.7 73.1" stroke="#b9ff3e"/><path d="M365.7 73.1L367.0 76.4" stroke="#90ff67"/><path d="M367.0 76.4L367.2 79.0" stroke="#73ff84"/><path d="M367.2 79.0L367.4 81.6" stroke="#63ff94"/><path d="M367.4 81.6L367.6 84.2" stroke="#52ffa5"/><path d="M367.6 84.2L367.8 86.8" stroke="#42ffb5"/><path d="M367.8 86.8L367.8 86.6" stroke="#3affbd"/><path d="M367.8 86.6L368.2 89.4" stroke="#82ff75"/><path d="M368.2 89.4L368.6 92.2" stroke="#ffd700"/><path d="M368.6 92.2L369.9 95.5" stroke="#ff7100"/><path d="M369.9 95.5L371.1 98.8" stroke="#ff4c00"/><path d="M371.1 98.8L371.9 102.1" stroke="#ff4400"/><path d="M371.9 102.1L372.7 105.4" stroke="#ff5c00"/><path d="M372.7 105.4L373.2 107.9" stroke="#ff6f00"/><path d="M373.2 107.9L373.6 110.4" stroke="#ff7d00"/><path d="M373.6 110.4L377.7 110.4" stroke="#ff8e00"/><path d="M377.7 110.4L379.9 111.7" stroke="#ffa200"/><path d="M379.9 111.7L382.1 113.1" stroke="#ffb800"/><path d="M382.1 113.1L384.3 114.5" stroke="#ffce00"/><path d="M384.3 114.5L387.6 116.1" stroke="#ffe000"/><path d="M387.6 116.1L390.9 117.8" stroke="#fdee00"/><path d="M390.9 117.8L394.2 116.6" stroke="#ecff0a"/><path d="M394.2 116.6L397.5 115.3" stroke="#d8ff1f"/><path d="M397.5 115.3L399.7 113.1" stroke="#c7ff30"/><path d="M399.7 113.1L401.9 110.9" stroke="#b9ff3e"/><path d="M401.9 110.9L404.1 108.7" stroke="#abff4b"/><path d="M404.1 108.7L405.2 106.0" stroke="#a5ff52"/><path d="M405.2 106.0L406.3 103.2" stroke="#a5ff52"/><path d="M406.3 103.2L407.4 100.5" stroke="#a5ff52"/></g>
<g fill="none" stroke-width="1.0" stroke-linecap="round" opacity="1"><path d="M343.9 54.1L346.4 55.8" stroke="#ff7c00"/><path d="M346.4 55.8L348.8 57.4" stroke="#ff8000"/><path d="M348.8 57.4L351.3 59.1" stroke="#ff8300"/><path d="M351.3 59.1L353.5 60.5" stroke="#ff8700"/><path d="M353.5 60.5L355.7 61.8" stroke="#ff8e00"/><path d="M355.7 61.8L357.9 63.2" stroke="#ff9400"/><path d="M357.9 63.2L360.0 65.3" stroke="#ffa300"/><path d="M360.0 65.3L362.0 67.3" stroke="#ffbb00"/><path d="M362.0 67.3L363.7 70.2" stroke="#ffde00"/><path d="M363.7 70.2L365.3 73.1" stroke="#e2ff15"/></g>
<g fill="none" stroke-width="1.0" stroke-linecap="round" opacity="1"><path d="M367.0 93.9L365.9 96.4" stroke="#f0fe07"/><path d="M365.9 96.4L364.9 98.8" stroke="#e1ff16"/><path d="M364.9 98.8L363.9 101.3" stroke="#d3ff24"/><path d="M363.9 101.3L362.9 103.8" stroke="#c4ff32"/><path d="M362.9 103.8L361.6 106.3" stroke="#b5ff42"/><path d="M361.6 106.3L360.4 108.7" stroke="#a5ff52"/><path d="M360.4 108.7L359.1 111.2" stroke="#94ff63"/><path d="M359.1 111.2L357.9 113.7" stroke="#84ff73"/><path d="M357.9 113.7L356.3 116.4" stroke="#7bff7b"/><path d="M356.3 116.4L354.6 119.2" stroke="#7bff7b"/><path d="M354.6 119.2L353.0 121.9" stroke="#7bff7b"/><path d="M353.0 121.9L351.7 124.4" stroke="#6bff8c"/><path d="M351.7 124.4L350.5 126.9" stroke="#4affad"/></g>
<g fill="none" stroke-width="1.0" stroke-linecap="round" opacity="1"><path d="M348.8 121.1L351.3 124.4" stroke="#67ff90"/><path d="M351.3 124.4L353.8 125.1" stroke="#7bff7b"/><path d="M353.8 125.1L356.3 125.8" stroke="#7bff7b"/><path d="M356.3 125.8L358.7 126.5" stroke="#7bff7b"/><path d="M358.7 126.5L361.2 127.2" stroke="#7bff7b"/><path d="M361.2 127.2L364.5 127.2" stroke="#82ff75"/><path d="M364.5 127.2L367.8 127.2" stroke="#90ff67"/><path d="M367.8 127.2L371.1 127.2" stroke="#9eff59"/><path d="M371.1 127.2L373.8 126.5" stroke="#abff4b"/><path d="M373.8 126.5L376.6 125.9" stroke="#b9ff3e"/><path d="M376.6 125.9L379.3 125.2" stroke="#c7ff30"/><path d="M379.3 125.2L382.1 124.7" stroke="#e2ff15"/><path d="M382.1 124.7L384.8 124.1" stroke="#ffde00"/><path d="M384.8 124.1L387.6 123.6" stroke="#ffaf00"/><path d="M387.6 123.6L390.3 123.6" stroke="#ffa500"/><path d="M390.3 123.6L393.1 123.6" stroke="#ffc200"/><path d="M393.1 123.6L395.8 123.6" stroke="#ffde00"/><path d="M395.8 123.6L398.1 125.2" stroke="#fbf100"/><path d="M398.1 125.2L400.6 124.8" stroke="#f7f600"/><path d="M400.6 124.8L403.1 124.4" stroke="#f7f600"/><path d="M403.1 124.4L405.5 124.0" stroke="#f7f600"/><path d="M405.5 124.0L408.0 123.6" stroke="#f7f600"/><path d="M408.0 123.6L410.5 125.6" stroke="#f9f300"/><path d="M410.5 125.6L413.0 127.7" stroke="#fdee00"/><path d="M413.0 127.7L414.1 130.2" stroke="#ffe600"/><path d="M414.1 130.2L415.2 132.6" stroke="#ffd900"/><path d="M415.2 132.6L416.3 135.1" stroke="#ffcd00"/><path d="M416.3 135.1L417.1 137.8" stroke="#ffcc00"/><path d="M417.1 137.8L417.9 140.6" stroke="#ffd700"/><path d="M417.9 140.6L418.7 143.3" stroke="#ffe300"/><path d="M418.7 143.3L419.6 146.0" stroke="#fdee00"/><path d="M419.6 146.0L420.4 148.8" stroke="#f3f903"/></g>
<g fill="none" stroke-width="1.0" stroke-linecap="round" opacity="1"><path d="M368.6 100.5L368.6 103.8" stroke="#ff9400"/><path d="M368.6 103.8L368.6 107.1" stroke="#ff8e00"/><path d="M368.6 107.1L368.6 110.4" stroke="#ff8700"/><path d="M368.6 110.4L368.4 113.7" stroke="#ffaf00"/><path d="M368.4 113.7L368.1 117.0" stroke="#eaff0c"/><path d="M368.1 117.0L367.8 120.3" stroke="#a0ff56"/><path d="M367.8 120.3L369.5 123.6" stroke="#7bff7b"/></g>
<g fill="none" stroke-width="1.0" stroke-linecap="round" opacity="1"><path d="M372.7 115.3L374.9 117.5" stroke="#ffbe00"/><path d="M374.9 117.5L377.1 119.7" stroke="#ffaf00"/><path d="M377.1 119.7L379.3 121.9" stroke="#ff9f00"/><path d="M379.3 121.9L382.1 122.5" stroke="#ff9700"/><path d="M382.1 122.5L384.8 123.0" stroke="#ff9700"/><path d="M384.8 123.0L387.6 123.6" stroke="#ff9700"/></g>
<g fill="none" stroke-width="1.0" stroke-linecap="round" opacity="1"><path d="M379.3 121.1L383.5 122.7" stroke="#ff9700"/></g>
<g fill="none" stroke-width="1.0" stroke-linecap="round" opacity="1"><path d="M404.7 84.0L404.7 86.7" stroke="#ff8400"/><path d="M404.7 86.7L404.7 89.5" stroke="#ff8400"/><path d="M404.7 89.5L404.7 92.2" stroke="#ff8400"/><path d="M404.7 92.2L404.7 95.0" stroke="#ffa200"/><path d="M404.7 95.0L404.7 97.7" stroke="#ffde00"/><path d="M404.7 97.7L404.7 100.5" stroke="#d7ff20"/><path d="M404.7 100.5L405.5 103.2" stroke="#b2ff45"/><path d="M405.5 103.2L406.4 106.0" stroke="#9cff5a"/><path d="M406.4 106.0L407.2 108.7" stroke="#86ff70"/><path d="M407.2 108.7L408.4 111.2" stroke="#73ff84"/><path d="M408.4 111.2L409.7 113.7" stroke="#63ff94"/><path d="M409.7 113.7L410.9 116.1" stroke="#52ffa5"/><path d="M410.9 116.1L412.1 118.6" stroke="#42ffb5"/><path d="M412.1 118.6L413.4 121.1" stroke="#35ffc1"/><path d="M413.4 121.1L414.6 123.6" stroke="#2dffca"/><path d="M414.6 123.6L415.9 126.0" stroke="#25ffd2"/><path d="M415.9 126.0L417.1 128.5" stroke="#1dffda"/><path d="M417.1 128.5L418.3 131.0" stroke="#1bffdc"/><path d="M418.3 131.0L419.6 133.5" stroke="#1fffd8"/><path d="M419.6 133.5L420.8 135.9" stroke="#23ffd4"/><path d="M420.8 135.9L422.0 138.4" stroke="#27ffd0"/><path d="M422.0 138.4L423.1 141.0" stroke="#29ffce"/><path d="M423.1 141.0L424.1 143.6" stroke="#29ffce"/><path d="M424.1 143.6L425.1 146.2" stroke="#29ffce"/><path d="M425.1 146.2L426.2 148.8" stroke="#29ffce"/></g>
<g fill="none" stroke-width="1.0" stroke-linecap="round" opacity="1"><path d="M404.7 100.5L403.6 103.2" stroke="#a0ff56"/><path d="M403.6 103.2L402.5 106.0" stroke="#98ff5f"/><path d="M402.5 106.0L401.4 108.7" stroke="#90ff67"/><path d="M401.4 108.7L399.8 110.9" stroke="#89ff6e"/><path d="M399.8 110.9L398.1 113.1" stroke="#84ff73"/><path d="M398.1 113.1L396.5 115.3" stroke="#7eff79"/><path d="M396.5 115.3L394.3 116.7" stroke="#7bff7b"/><path d="M394.3 116.7L392.1 118.1" stroke="#7bff7b"/><path d="M392.1 118.1L389.9 119.4" stroke="#7bff7b"/><path d="M389.9 119.4L387.7 120.8" stroke="#7bff7b"/><path d="M387.7 120.8L385.5 122.2" stroke="#7bff7b"/><path d="M385.5 122.2L383.3 123.6" stroke="#7bff7b"/><path d="M383.3 123.6L380.0 125.2" stroke="#7bff7b"/><path d="M380.0 125.2L376.0 126.5" stroke="#84ff73"/><path d="M376.0 126.5L371.1 127.2" stroke="#98ff5f"/></g>
<g fill="none" stroke-width="1.0" stroke-linecap="round" opacity="1"><path d="M380.0 112.8L382.2 114.2" stroke="#ffa500"/><path d="M382.2 114.2L384.4 115.6" stroke="#ffc200"/><path d="M384.4 115.6L386.6 117.0" stroke="#ffde00"/><path d="M386.6 117.0L389.9 117.8" stroke="#fbf100"/><path d="M389.9 117.8L393.2 118.6" stroke="#f3fa04"/><path d="M393.2 118.6L395.9 117.5" stroke="#dbff1b"/><path d="M395.9 117.5L398.7 116.4" stroke="#b5ff42"/><path d="M398.7 116.4L401.4 115.3" stroke="#8fff68"/><path d="M401.4 115.3L404.7 112.0" stroke="#7bff7b"/></g>
<g fill="none" stroke-width="1.0" stroke-linecap="round" opacity="1"><path d="M408.0 120.3L410.5 121.9" stroke="#f8f400"/><path d="M410.5 121.9L413.0 123.6" stroke="#faf200"/><path d="M413.0 123.6L415.4 125.2" stroke="#fcf000"/><path d="M415.4 125.2L417.9 126.9" stroke="#feed00"/><path d="M417.9 126.9L419.6 129.3" stroke="#ffea00"/><path d="M419.6 129.3L421.2 131.8" stroke="#ffe500"/><path d="M421.2 131.8L422.9 134.3" stroke="#ffe000"/><path d="M422.9 134.3L424.5 136.7" stroke="#ffdc00"/><path d="M424.5 136.7L425.8 139.2" stroke="#ffd500"/><path d="M425.8 139.2L427.1 141.6" stroke="#ffce00"/><path d="M427.1 141.6L428.5 144.0" stroke="#ffc600"/><path d="M428.5 144.0L429.8 146.4" stroke="#ffbf00"/><path d="M429.8 146.4L431.1 148.8" stroke="#ffb700"/></g>
<g fill="none" stroke-width="1.0" stroke-linecap="round" opacity="1"><path d="M403.9 86.8L403.6 83.9" stroke="#ff9f00"/><path d="M403.6 83.9L403.4 81.0" stroke="#ffaf00"/><path d="M403.4 81.0L403.1 78.0" stroke="#ffbe00"/><path d="M403.1 78.0L403.5 75.6" stroke="#fdee00"/><path d="M403.5 75.6L403.9 73.1" stroke="#b7ff40"/><path d="M403.9 73.1L404.3 70.6" stroke="#71ff86"/><path d="M404.3 70.6L404.7 68.2" stroke="#2bffcc"/><path d="M404.7 68.2L405.3 65.7" stroke="#0cf5ea"/><path d="M405.3 65.7L406.0 63.2" stroke="#15ffe2"/><path d="M406.0 63.2L406.6 60.7" stroke="#1dffda"/><path d="M406.6 60.7L407.2 58.3" stroke="#25ffd2"/><path d="M407.2 58.3L408.6 55.8" stroke="#30ffc7"/><path d="M408.6 55.8L409.9 53.3" stroke="#3effb9"/><path d="M409.9 53.3L411.3 50.8" stroke="#4bffab"/><path d="M411.3 50.8L413.0 48.8" stroke="#57ff9f"/><path d="M413.0 48.8L414.6 46.7" stroke="#62ff95"/><path d="M414.6 46.7L416.3 44.7" stroke="#6cff8b"/><path d="M416.3 44.7L417.9 42.6" stroke="#76ff81"/><path d="M417.9 42.6L420.8 40.5" stroke="#7bff7b"/><path d="M420.8 40.5L423.7 38.5" stroke="#7bff7b"/><path d="M423.7 38.5L426.6 38.1" stroke="#80ff77"/><path d="M426.6 38.1L429.5 37.7" stroke="#88ff6f"/><path d="M429.5 37.7L432.2 37.8" stroke="#94ff63"/><path d="M432.2 37.8L434.9 38.0" stroke="#a5ff52"/><path d="M434.9 38.0L437.7 38.2" stroke="#b5ff42"/><path d="M437.7 38.2L440.4 38.4" stroke="#c7ff30"/><path d="M440.4 38.4L443.2 38.6" stroke="#daff1d"/><path d="M443.2 38.6L445.9 38.8" stroke="#edff0a"/></g>
<g fill="none" stroke-width="1.0" stroke-linecap="round" opacity="1"><path d="M437.7 38.2L437.3 40.8" stroke="#c5ff31"/><path d="M437.3 40.8L436.9 43.4" stroke="#d6ff21"/><path d="M436.9 43.4L435.1 45.4" stroke="#deff19"/><path d="M435.1 45.4L433.2 47.4" stroke="#deff19"/><path d="M433.2 47.4L431.4 49.4" stroke="#deff19"/><path d="M431.4 49.4L429.6 51.3" stroke="#deff19"/><path d="M429.6 51.3L427.8 53.3" stroke="#deff19"/><path d="M427.8 53.3L426.2 55.4" stroke="#dfff18"/><path d="M426.2 55.4L424.5 57.4" stroke="#e0ff17"/><path d="M424.5 57.4L422.9 59.5" stroke="#e2ff15"/><path d="M422.9 59.5L421.2 61.6" stroke="#e3ff14"/><path d="M421.2 61.6L419.6 63.6" stroke="#e4ff13"/><path d="M419.6 63.6L417.9 65.7" stroke="#e6ff11"/><path d="M417.9 65.7L416.3 67.8" stroke="#e7ff10"/><path d="M416.3 67.8L414.6 70.0" stroke="#e9ff0e"/><path d="M414.6 70.0L413.0 72.1" stroke="#eaff0c"/><path d="M413.0 72.1L411.3 74.3" stroke="#ecff0b"/><path d="M411.3 74.3L409.7 76.4" stroke="#eeff09"/><path d="M409.7 76.4L408.4 79.0" stroke="#f5f802"/><path d="M408.4 79.0L407.2 81.6" stroke="#ffea00"/><path d="M407.2 81.6L406.0 84.2" stroke="#ffdc00"/><path d="M406.0 84.2L404.7 86.8" stroke="#ffcd00"/></g>
<g fill="none" stroke-width="1.0" stroke-linecap="round" opacity="1"><path d="M423.7 38.5L425.8 39.8" stroke="#80ff77"/><path d="M425.8 39.8L428.0 41.1" stroke="#88ff6f"/><path d="M428.0 41.1L430.1 42.4" stroke="#90ff67"/><path d="M430.1 42.4L432.3 43.8" stroke="#98ff5f"/><path d="M432.3 43.8L434.4 45.1" stroke="#a0ff56"/><path d="M434.4 45.1L432.4 47.1" stroke="#a5ff52"/><path d="M432.4 47.1L430.4 49.0" stroke="#a5ff52"/><path d="M430.4 49.0L428.5 51.0" stroke="#a5ff52"/><path d="M428.5 51.0L426.5 53.0" stroke="#a5ff52"/><path d="M426.5 53.0L424.5 55.0" stroke="#a5ff52"/><path d="M424.5 55.0L422.9 56.9" stroke="#a5ff52"/><path d="M422.9 56.9L421.2 58.8" stroke="#a5ff52"/><path d="M421.2 58.8L419.6 60.7" stroke="#a5ff52"/><path d="M419.6 60.7L417.9 62.7" stroke="#a5ff52"/><path d="M417.9 62.7L416.3 64.6" stroke="#a5ff52"/><path d="M416.3 64.6L414.6 66.5" stroke="#a5ff52"/><path d="M414.6 66.5L413.1 68.8" stroke="#a5ff52"/><path d="M413.1 68.8L411.6 71.1" stroke="#a5ff52"/><path d="M411.6 71.1L410.2 73.4" stroke="#a5ff52"/><path d="M410.2 73.4L408.7 75.7" stroke="#a5ff52"/><path d="M408.7 75.7L407.2 78.0" stroke="#a5ff52"/><path d="M407.2 78.0L406.0 81.3" stroke="#afff48"/><path d="M406.0 81.3L404.7 84.6" stroke="#c3ff33"/></g>
<g fill="none" stroke-width="1.0" stroke-linecap="round" opacity="1"><path d="M429.5 39.3L431.1 41.2" stroke="#ffd600"/><path d="M431.1 41.2L432.7 43.2" stroke="#ffd000"/><path d="M432.7 43.2L434.4 45.1" stroke="#ffc900"/><path d="M434.4 45.1L435.8 47.5" stroke="#ffc300"/><path d="M435.8 47.5L437.1 50.0" stroke="#ffbd00"/><path d="M437.1 50.0L438.5 52.5" stroke="#ffb700"/></g>
<g fill="none" stroke-width="1.0" stroke-linecap="round" opacity="1"><path d="M420.4 149.0L420.8 151.7" stroke="#ccff2b"/><path d="M420.8 151.7L421.2 154.5" stroke="#caff2d"/><path d="M421.2 154.5L421.6 157.2" stroke="#c7ff30"/><path d="M421.6 157.2L422.0 160.0" stroke="#c4ff33"/><path d="M422.0 160.0L422.4 162.7" stroke="#c1ff35"/><path d="M422.4 162.7L422.9 165.5" stroke="#bfff38"/><path d="M422.9 165.5L423.4 168.2" stroke="#bbff3c"/><path d="M423.4 168.2L424.0 171.0" stroke="#b7ff40"/><path d="M424.0 171.0L424.5 173.7" stroke="#b3ff44"/><path d="M424.5 173.7L425.1 176.5" stroke="#afff48"/><path d="M425.1 176.5L425.6 179.2" stroke="#abff4c"/><path d="M425.6 179.2L426.2 182.0" stroke="#a7ff50"/><path d="M426.2 182.0L426.7 184.7" stroke="#a1ff56"/><path d="M426.7 184.7L427.3 187.5" stroke="#9aff5d"/><path d="M427.3 187.5L427.8 190.2" stroke="#93ff63"/><path d="M427.8 190.2L428.4 193.0" stroke="#8dff6a"/><path d="M428.4 193.0L428.9 195.7" stroke="#86ff71"/><path d="M428.9 195.7L429.5 198.5" stroke="#7fff78"/><path d="M429.5 198.5L430.0 201.0" stroke="#76ff81"/><path d="M430.0 201.0L430.5 203.6" stroke="#6bff8c"/><path d="M430.5 203.6L431.1 206.1" stroke="#60ff97"/><path d="M431.1 206.1L431.6 208.7" stroke="#55ffa2"/><path d="M431.6 208.7L432.2 211.2" stroke="#4affad"/><path d="M432.2 211.2L432.7 213.8" stroke="#3fffb8"/><path d="M432.7 213.8L436.9 214.0" stroke="#31ffc5"/><path d="M436.9 214.0L437.1 216.7" stroke="#2bffcc"/><path d="M437.1 216.7L437.4 219.5" stroke="#2dffca"/><path d="M437.4 219.5L437.7 222.2" stroke="#30ffc7"/><path d="M437.7 222.2L438.0 225.0" stroke="#33ffc4"/><path d="M438.0 225.0L438.2 227.7" stroke="#35ffc1"/><path d="M438.2 227.7L438.5 230.5" stroke="#38ffbf"/><path d="M438.5 230.5L438.9 233.3" stroke="#3bffbb"/><path d="M438.9 233.3L439.2 236.1" stroke="#3fffb8"/><path d="M439.2 236.1L439.6 239.0" stroke="#42ffb4"/><path d="M439.6 239.0L439.9 241.8" stroke="#46ffb1"/><path d="M439.9 241.8L440.3 244.6" stroke="#49ffad"/><path d="M440.3 244.6L440.6 247.4" stroke="#4dffaa"/><path d="M440.6 247.4L441.0 250.3" stroke="#50ffa6"/><path d="M441.0 250.3L441.3 253.0" stroke="#56ffa0"/><path d="M441.3 253.0L441.6 255.7" stroke="#5fff98"/><path d="M441.6 255.7L442.0 258.5" stroke="#67ff90"/><path d="M442.0 258.5L442.3 261.2" stroke="#6fff88"/><path d="M442.3 261.2L442.6 263.9" stroke="#77ff80"/><path d="M442.6 263.9L442.6 264.0" stroke="#7bff7b"/><path d="M442.6 264.0L442.7 267.3" stroke="#86ff70"/><path d="M442.7 267.3L442.9 270.6" stroke="#9cff5a"/><path d="M442.9 270.6L443.0 273.9" stroke="#b2ff45"/><path d="M443.0 273.9L443.1 277.2" stroke="#c7ff30"/><path d="M443.1 277.2L443.3 280.5" stroke="#daff1d"/><path d="M443.3 280.5L443.5 283.8" stroke="#edff0a"/><path d="M443.5 283.8L443.7 287.1" stroke="#ffe600"/><path d="M443.7 287.1L444.0 290.4" stroke="#ffc600"/><path d="M444.0 290.4L444.3 293.7" stroke="#ffa700"/><path d="M444.3 293.7L444.7 297.0" stroke="#ff7c00"/><path d="M444.7 297.0L445.1 300.3" stroke="#ff4700"/><path d="M445.1 300.3L445.4 303.6" stroke="#fd1100"/><path d="M445.4 303.6L442.9 303.7" stroke="#f90e00"/><path d="M442.9 303.7L440.3 303.8" stroke="#ff3d00"/><path d="M440.3 303.8L437.7 303.9" stroke="#ff6d00"/><path d="M437.7 303.9L434.9 304.1" stroke="#ff9700"/><path d="M434.9 304.1L432.2 304.2" stroke="#ffbd00"/><path d="M432.2 304.2L429.5 304.4" stroke="#ffe300"/><path d="M429.5 304.4L426.2 304.4" stroke="#d8ff1f"/><path d="M426.2 304.4L422.9 304.4" stroke="#9aff5d"/><path d="M422.9 304.4L420.2 304.5" stroke="#73ff84"/><path d="M420.2 304.5L417.6 304.7" stroke="#63ff94"/><path d="M417.6 304.7L414.9 304.9" stroke="#52ffa5"/><path d="M414.9 304.9L412.3 305.0" stroke="#42ffb5"/><path d="M412.3 305.0L409.7 305.2" stroke="#31ffc5"/><path d="M409.7 305.2L407.0 305.7" stroke="#27ffcf"/><path d="M407.0 305.7L404.4 306.2" stroke="#24ffd3"/><path d="M404.4 306.2L401.8 306.7" stroke="#21ffd6"/><path d="M401.8 306.7L399.1 307.2" stroke="#1effd9"/><path d="M399.1 307.2L396.5 307.7" stroke="#1affdc"/><path d="M396.5 307.7L393.7 308.1" stroke="#17ffdf"/><path d="M393.7 308.1L391.0 308.5" stroke="#15ffe2"/><path d="M391.0 308.5L388.2 308.9" stroke="#12fce5"/><path d="M388.2 308.9L385.5 309.3" stroke="#0ff8e8"/><path d="M385.5 309.3L382.7 309.7" stroke="#0cf5ea"/><path d="M382.7 309.7L380.0 310.2" stroke="#0af1ed"/></g>
<g fill="none" stroke-width="1.0" stroke-linecap="round" opacity="1"><path d="M424.5 149.0L424.9 151.7" stroke="#29ffce"/><path d="M424.9 151.7L425.3 154.5" stroke="#29ffce"/><path d="M425.3 154.5L425.7 157.2" stroke="#29ffce"/><path d="M425.7 157.2L426.2 160.0" stroke="#29ffce"/><path d="M426.2 160.0L426.6 162.7" stroke="#29ffce"/><path d="M426.6 162.7L427.0 165.5" stroke="#29ffce"/><path d="M427.0 165.5L427.4 168.2" stroke="#2bffcc"/><path d="M427.4 168.2L427.8 171.0" stroke="#2dffca"/><path d="M427.8 171.0L428.2 173.7" stroke="#30ffc7"/><path d="M428.2 173.7L428.6 176.5" stroke="#33ffc4"/><path d="M428.6 176.5L429.0 179.2" stroke="#35ffc1"/><path d="M429.0 179.2L429.5 182.0" stroke="#38ffbf"/><path d="M429.5 182.0L428.6 184.7" stroke="#45ffb2"/><path d="M428.6 184.7L427.8 187.5" stroke="#5aff9c"/><path d="M427.8 187.5L427.0 190.2" stroke="#70ff86"/><path d="M427.0 190.2L426.4 192.7" stroke="#7fff78"/><path d="M426.4 192.7L425.9 195.2" stroke="#86ff71"/><path d="M425.9 195.2L425.3 197.6" stroke="#8dff6a"/><path d="M425.3 197.6L424.8 200.1" stroke="#93ff63"/><path d="M424.8 200.1L424.2 202.6" stroke="#9aff5d"/><path d="M424.2 202.6L423.7 205.0" stroke="#a1ff56"/><path d="M423.7 205.0L423.1 208.0" stroke="#a9ff4e"/><path d="M423.1 208.0L422.6 210.9" stroke="#b1ff46"/><path d="M422.6 210.9L422.0 213.8" stroke="#b9ff3e"/><path d="M422.0 213.8L421.2 214.0" stroke="#bdff3a"/><path d="M421.2 214.0L420.6 216.6" stroke="#b7ff40"/><path d="M420.6 216.6L420.0 219.3" stroke="#a9ff4d"/><path d="M420.0 219.3L419.4 221.9" stroke="#9cff5a"/><path d="M419.4 221.9L418.8 224.5" stroke="#8fff68"/><path d="M418.8 224.5L418.2 227.2" stroke="#82ff75"/><path d="M418.2 227.2L418.6 230.1" stroke="#8aff6d"/><path d="M418.6 230.1L418.9 233.0" stroke="#a7ff50"/><path d="M418.9 233.0L419.2 235.8" stroke="#c3ff33"/><path d="M419.2 235.8L419.6 238.7" stroke="#e0ff17"/><path d="M419.6 238.7L419.9 241.4" stroke="#f3f903"/><path d="M419.9 241.4L420.2 244.0" stroke="#fdee00"/><path d="M420.2 244.0L420.5 246.6" stroke="#ffe300"/><path d="M420.5 246.6L420.9 249.3" stroke="#ffd700"/><path d="M420.9 249.3L421.2 251.9" stroke="#ffcc00"/><path d="M421.2 251.9L421.6 254.9" stroke="#ffd500"/><path d="M421.6 254.9L422.0 257.9" stroke="#fbf100"/><path d="M422.0 257.9L422.4 260.9" stroke="#e2ff15"/><path d="M422.4 260.9L422.9 263.9" stroke="#caff2d"/><path d="M422.9 263.9L423.2 264.0" stroke="#bdff3a"/><path d="M423.2 264.0L423.3 266.7" stroke="#afff47"/><path d="M423.3 266.7L423.4 269.5" stroke="#94ff63"/><path d="M423.4 269.5L423.4 272.2" stroke="#79ff7e"/><path d="M423.4 272.2L423.5 275.0" stroke="#5dff9a"/><path d="M423.5 275.0L423.6 277.7" stroke="#42ffb5"/><path d="M423.6 277.7L423.7 280.5" stroke="#26ffd0"/><path d="M423.7 280.5L423.7 283.2" stroke="#21ffd6"/><path d="M423.7 283.2L423.7 286.0" stroke="#31ffc5"/><path d="M423.7 286.0L423.7 288.7" stroke="#42ffb5"/><path d="M423.7 288.7L423.7 291.5" stroke="#52ffa5"/><path d="M423.7 291.5L423.7 294.2" stroke="#63ff94"/><path d="M423.7 294.2L423.7 297.0" stroke="#73ff84"/><path d="M423.7 297.0L423.7 299.8" stroke="#7bff7b"/><path d="M423.7 299.8L423.7 302.6" stroke="#7bff7b"/><path d="M423.7 302.6L423.7 305.4" stroke="#7bff7b"/><path d="M423.7 305.4L423.7 308.2" stroke="#7bff7b"/><path d="M423.7 308.2L423.7 311.0" stroke="#7bff7b"/><path d="M423.7 311.0L421.0 311.2" stroke="#6dff8a"/><path d="M421.0 311.2L418.3 311.4" stroke="#50ffa7"/><path d="M418.3 311.4L415.6 311.6" stroke="#33ffc3"/><path d="M415.6 311.6L413.0 311.8" stroke="#17ffe0"/><path d="M413.0 311.8L410.2 311.5" stroke="#0bf3ec"/><path d="M410.2 311.5L407.5 311.3" stroke="#10fae6"/><path d="M407.5 311.3L404.7 311.0" stroke="#16ffe1"/><path d="M404.7 311.0L402.0 310.7" stroke="#1bffdb"/><path d="M402.0 310.7L399.2 310.4" stroke="#21ffd6"/><path d="M399.2 310.4L396.5 310.2" stroke="#26ffd0"/><path d="M396.5 310.2L393.7 310.0" stroke="#30ffc7"/><path d="M393.7 310.0L391.0 309.9" stroke="#3effb9"/><path d="M391.0 309.9L388.2 309.7" stroke="#4bffab"/><path d="M388.2 309.7L385.5 309.6" stroke="#59ff9e"/><path d="M385.5 309.6L382.7 309.5" stroke="#67ff90"/><path d="M382.7 309.5L380.0 309.3" stroke="#75ff82"/></g>
<g fill="none" stroke-width="1.0" stroke-linecap="round" opacity="1"><path d="M429.5 149.0L430.1 151.6" stroke="#00b2ff"/><path d="M430.1 151.6L430.8 154.3" stroke="#00b2ff"/><path d="M430.8 154.3L431.4 156.9" stroke="#00b2ff"/><path d="M431.4 156.9L432.1 159.5" stroke="#00b2ff"/><path d="M432.1 159.5L432.7 162.2" stroke="#00b2ff"/><path d="M432.7 162.2L433.4 164.7" stroke="#00b2ff"/><path d="M433.4 164.7L434.1 167.1" stroke="#00b2ff"/><path d="M434.1 167.1L434.8 169.6" stroke="#00b2ff"/><path d="M434.8 169.6L435.5 172.1" stroke="#00b2ff"/><path d="M435.5 172.1L436.2 174.5" stroke="#00b2ff"/><path d="M436.2 174.5L436.9 177.0" stroke="#00b2ff"/><path d="M436.9 177.0L437.5 179.5" stroke="#00b2ff"/><path d="M437.5 179.5L438.1 182.0" stroke="#00b2ff"/><path d="M438.1 182.0L438.7 184.4" stroke="#00b2ff"/><path d="M438.7 184.4L439.3 186.9" stroke="#00b2ff"/><path d="M439.3 186.9L438.7 189.8" stroke="#00b2ff"/><path d="M438.7 189.8L438.1 192.7" stroke="#00b2ff"/><path d="M438.1 192.7L437.5 195.6" stroke="#00b2ff"/><path d="M437.5 195.6L436.9 198.5" stroke="#00b2ff"/><path d="M436.9 198.5L436.6 201.0" stroke="#00b2ff"/><path d="M436.6 201.0L436.3 203.6" stroke="#00b2ff"/><path d="M436.3 203.6L436.0 206.1" stroke="#00b2ff"/><path d="M436.0 206.1L435.8 208.7" stroke="#00b2ff"/><path d="M435.8 208.7L435.5 211.2" stroke="#00b2ff"/><path d="M435.5 211.2L435.2 213.8" stroke="#00b2ff"/><path d="M435.2 213.8L435.2 214.0" stroke="#00b2ff"/><path d="M435.2 214.0L435.1 216.7" stroke="#00b2ff"/><path d="M435.1 216.7L434.9 219.5" stroke="#00b2ff"/><path d="M434.9 219.5L434.8 222.2" stroke="#00b2ff"/><path d="M434.8 222.2L434.7 225.0" stroke="#00b2ff"/><path d="M434.7 225.0L434.5 227.7" stroke="#00b2ff"/><path d="M434.5 227.7L434.4 230.5" stroke="#00b2ff"/><path d="M434.4 230.5L434.3 233.2" stroke="#00b2ff"/><path d="M434.3 233.2L434.1 236.0" stroke="#00b2ff"/><path d="M434.1 236.0L434.0 238.7" stroke="#00b2ff"/><path d="M434.0 238.7L433.8 241.5" stroke="#00b2ff"/><path d="M433.8 241.5L433.7 244.2" stroke="#00b2ff"/><path d="M433.7 244.2L433.6 247.0" stroke="#00b2ff"/><path d="M433.6 247.0L433.4 249.8" stroke="#00b2ff"/><path d="M433.4 249.8L433.3 252.6" stroke="#00b2ff"/><path d="M433.3 252.6L433.2 255.5" stroke="#00b2ff"/><path d="M433.2 255.5L433.0 258.3" stroke="#00b2ff"/><path d="M433.0 258.3L432.9 261.1" stroke="#00b2ff"/><path d="M432.9 261.1L432.7 263.9" stroke="#00b2ff"/><path d="M432.7 263.9L432.7 264.0" stroke="#00b2ff"/><path d="M432.7 264.0L432.8 266.5" stroke="#00bbff"/><path d="M432.8 266.5L432.8 269.1" stroke="#00ccff"/><path d="M432.8 269.1L432.8 271.6" stroke="#00ddfe"/><path d="M432.8 271.6L432.9 274.2" stroke="#07eef0"/><path d="M432.9 274.2L432.9 276.7" stroke="#15ffe2"/><path d="M432.9 276.7L432.9 279.2" stroke="#22ffd5"/><path d="M432.9 279.2L432.9 281.8" stroke="#30ffc7"/><path d="M432.9 281.8L433.0 284.3" stroke="#3effb9"/><path d="M433.0 284.3L433.0 286.9" stroke="#4bffab"/><path d="M433.0 286.9L433.0 289.4" stroke="#59ff9e"/><path d="M433.0 289.4L433.0 292.0" stroke="#67ff90"/><path d="M433.0 292.0L433.1 294.5" stroke="#75ff82"/><path d="M433.1 294.5L430.8 295.6" stroke="#52ffa5"/><path d="M430.8 295.6L428.5 296.7" stroke="#00e5f7"/><path d="M428.5 296.7L426.2 297.8" stroke="#0080ff"/><path d="M426.2 297.8L423.4 299.2" stroke="#0044ff"/><path d="M423.4 299.2L420.7 300.5" stroke="#0033ff"/><path d="M420.7 300.5L417.9 301.9" stroke="#0022ff"/><path d="M417.9 301.9L415.4 302.7" stroke="#000eff"/><path d="M415.4 302.7L413.0 303.6" stroke="#0000ff"/><path d="M413.0 303.6L410.5 304.4" stroke="#0000ea"/><path d="M410.5 304.4L407.5 304.9" stroke="#0002ff"/><path d="M407.5 304.9L404.5 305.5" stroke="#0061ff"/><path d="M404.5 305.5L401.4 306.0" stroke="#00c0ff"/><path d="M401.4 306.0L398.5 306.3" stroke="#08f0ef"/><path d="M398.5 306.3L395.7 306.6" stroke="#08f0ef"/><path d="M395.7 306.6L392.8 306.9" stroke="#08f0ef"/><path d="M392.8 306.9L389.9 307.2" stroke="#08f0ef"/><path d="M389.9 307.2L386.6 307.6" stroke="#08f0ef"/><path d="M386.6 307.6L383.3 308.1" stroke="#08f0ef"/><path d="M383.3 308.1L380.0 308.5" stroke="#08f0ef"/></g>
<g fill="none" stroke-width="1.0" stroke-linecap="round" opacity="1"><path d="M427.0 157.2L427.4 160.0" stroke="#19ffde"/><path d="M427.4 160.0L427.8 162.7" stroke="#19ffde"/><path d="M427.8 162.7L428.2 165.5" stroke="#19ffde"/><path d="M428.2 165.5L428.6 168.2" stroke="#19ffde"/><path d="M428.6 168.2L429.0 171.0" stroke="#19ffde"/><path d="M429.0 171.0L429.5 173.7" stroke="#19ffde"/><path d="M429.5 173.7L429.7 176.5" stroke="#19ffde"/><path d="M429.7 176.5L430.0 179.2" stroke="#19ffde"/><path d="M430.0 179.2L430.3 182.0" stroke="#19ffde"/><path d="M430.3 182.0L430.5 184.7" stroke="#19ffde"/><path d="M430.5 184.7L430.8 187.5" stroke="#19ffde"/><path d="M430.8 187.5L431.1 190.2" stroke="#19ffde"/><path d="M431.1 190.2L431.6 192.8" stroke="#19ffde"/><path d="M431.6 192.8L432.1 195.5" stroke="#19ffde"/><path d="M432.1 195.5L432.6 198.1" stroke="#19ffde"/><path d="M432.6 198.1L433.1 200.8" stroke="#19ffde"/><path d="M433.1 200.8L433.6 203.4" stroke="#19ffde"/><path d="M433.6 203.4L434.0 206.0" stroke="#17ffe0"/><path d="M434.0 206.0L434.4 208.6" stroke="#13fce4"/><path d="M434.4 208.6L434.8 211.2" stroke="#0ef7e8"/><path d="M434.8 211.2L435.2 213.8" stroke="#0af2ec"/><path d="M435.2 213.8L432.7 214.0" stroke="#00d1ff"/><path d="M432.7 214.0L432.7 216.6" stroke="#00b2ff"/><path d="M432.7 216.6L432.7 219.3" stroke="#00b2ff"/><path d="M432.7 219.3L432.7 221.9" stroke="#00b2ff"/><path d="M432.7 221.9L432.7 224.5" stroke="#00b2ff"/><path d="M432.7 224.5L432.7 227.2" stroke="#00b2ff"/><path d="M432.7 227.2L432.5 229.9" stroke="#00b2ff"/><path d="M432.5 229.9L432.2 232.7" stroke="#00b2ff"/><path d="M432.2 232.7L431.9 235.4" stroke="#00b2ff"/><path d="M431.9 235.4L431.6 238.2" stroke="#00b2ff"/><path d="M431.6 238.2L431.4 240.9" stroke="#00b2ff"/><path d="M431.4 240.9L431.1 243.7" stroke="#00b2ff"/><path d="M431.1 243.7L431.0 246.2" stroke="#00b2ff"/><path d="M431.0 246.2L430.9 248.7" stroke="#00b2ff"/><path d="M430.9 248.7L430.8 251.3" stroke="#00b2ff"/><path d="M430.8 251.3L430.7 253.8" stroke="#00b2ff"/><path d="M430.7 253.8L430.6 256.3" stroke="#00b2ff"/><path d="M430.6 256.3L430.5 258.9" stroke="#00b2ff"/><path d="M430.5 258.9L430.4 261.4" stroke="#00b2ff"/><path d="M430.4 261.4L430.3 263.9" stroke="#00b2ff"/><path d="M430.3 263.9L429.5 264.0" stroke="#00b2ff"/><path d="M429.5 264.0L429.5 266.5" stroke="#00b2ff"/><path d="M429.5 266.5L429.5 269.1" stroke="#00b2ff"/><path d="M429.5 269.1L429.5 271.6" stroke="#00b2ff"/><path d="M429.5 271.6L429.5 274.2" stroke="#00b2ff"/><path d="M429.5 274.2L429.5 276.7" stroke="#00b2ff"/><path d="M429.5 276.7L429.5 279.3" stroke="#00b2ff"/><path d="M429.5 279.3L429.5 281.8" stroke="#00b2ff"/><path d="M429.5 281.8L429.5 284.4" stroke="#00b2ff"/><path d="M429.5 284.4L429.5 286.9" stroke="#00b2ff"/><path d="M429.5 286.9L429.5 289.5" stroke="#00b2ff"/><path d="M429.5 289.5L429.5 292.0" stroke="#00b2ff"/></g>
<g fill="none" stroke-width="1.0" stroke-linecap="round" opacity="1"><path d="M380.0 308.5L382.5 308.2" stroke="#06edf1"/><path d="M382.5 308.2L385.0 308.0" stroke="#02e8f5"/><path d="M385.0 308.0L387.5 307.7" stroke="#00e3f9"/><path d="M387.5 307.7L390.0 307.4" stroke="#00defd"/><path d="M390.0 307.4L392.5 307.1" stroke="#00d9ff"/><path d="M392.5 307.1L395.0 306.9" stroke="#00d4ff"/><path d="M395.0 306.9L397.5 306.6" stroke="#00cfff"/><path d="M397.5 306.6L400.0 306.3" stroke="#00c9ff"/><path d="M400.0 306.3L402.5 306.0" stroke="#00c4ff"/><path d="M402.5 306.0L405.0 305.8" stroke="#00bfff"/><path d="M405.0 305.8L407.5 305.5" stroke="#00baff"/><path d="M407.5 305.5L410.0 305.2" stroke="#00b5ff"/><path d="M410.0 305.2L407.5 305.6" stroke="#00b2ff"/><path d="M407.5 305.6L405.0 306.0" stroke="#00b2ff"/><path d="M405.0 306.0L402.5 306.4" stroke="#00b2ff"/><path d="M402.5 306.4L400.0 306.8" stroke="#00b2ff"/><path d="M400.0 306.8L397.5 307.2" stroke="#00b2ff"/><path d="M397.5 307.2L394.6 307.3" stroke="#00a6ff"/><path d="M394.6 307.3L391.7 307.4" stroke="#008cff"/><path d="M391.7 307.4L388.8 307.6" stroke="#0073ff"/><path d="M388.8 307.6L385.9 307.7" stroke="#0059ff"/><path d="M385.9 307.7L382.6 308.1" stroke="#003cff"/><path d="M382.6 308.1L379.3 308.5" stroke="#001aff"/><path d="M379.3 308.5L376.0 308.8" stroke="#0000ff"/><path d="M376.0 308.8L373.0 309.0" stroke="#0000ea"/><path d="M373.0 309.0L370.0 309.2" stroke="#0000d6"/><path d="M370.0 309.2L367.0 309.3" stroke="#0000c3"/><path d="M367.0 309.3L362.9 306.9" stroke="#0000b9"/><path d="M362.9 306.9L361.5 304.7" stroke="#0000b9"/><path d="M361.5 304.7L360.1 302.5" stroke="#0000b9"/><path d="M360.1 302.5L358.7 300.3" stroke="#0000b9"/><path d="M358.7 300.3L357.9 297.5" stroke="#0000b9"/><path d="M357.9 297.5L357.1 294.8" stroke="#0000b9"/><path d="M357.1 294.8L356.3 292.0" stroke="#0000b9"/><path d="M356.3 292.0L356.0 289.3" stroke="#0000b9"/><path d="M356.0 289.3L355.7 286.5" stroke="#0000b9"/><path d="M355.7 286.5L355.4 283.8" stroke="#0000b9"/><path d="M355.4 283.8L355.4 280.5" stroke="#0000bf"/><path d="M355.4 280.5L355.4 277.2" stroke="#0000cb"/><path d="M355.4 277.2L355.4 273.9" stroke="#0000d6"/><path d="M355.4 273.9L355.4 270.6" stroke="#0000e0"/><path d="M355.4 270.6L355.4 267.3" stroke="#0000e8"/><path d="M355.4 267.3L355.4 264.0" stroke="#0000f0"/></g>
<g fill="none" stroke-width="1.0" stroke-linecap="round" opacity="1"><path d="M360.4 264.0L360.4 266.7" stroke="#0000f3"/><path d="M360.4 266.7L360.4 269.5" stroke="#0000f3"/><path d="M360.4 269.5L360.4 272.2" stroke="#0000f3"/><path d="M360.4 272.2L360.4 275.0" stroke="#0000f3"/><path d="M360.4 275.0L360.4 277.7" stroke="#0000f3"/><path d="M360.4 277.7L360.4 280.5" stroke="#0000f3"/><path d="M360.4 280.5L360.4 283.1" stroke="#0000f3"/><path d="M360.4 283.1L360.4 285.8" stroke="#0000f3"/><path d="M360.4 285.8L360.4 288.4" stroke="#0000f3"/><path d="M360.4 288.4L360.4 291.0" stroke="#0000f3"/><path d="M360.4 291.0L360.4 293.7" stroke="#0000f3"/><path d="M360.4 293.7L360.7 296.4" stroke="#0000f3"/><path d="M360.7 296.4L360.9 299.2" stroke="#0000f3"/><path d="M360.9 299.2L361.2 301.9" stroke="#0000f3"/><path d="M361.2 301.9L362.9 304.4" stroke="#0000f3"/><path d="M362.9 304.4L364.5 306.9" stroke="#0000f3"/><path d="M364.5 306.9L367.0 309.3" stroke="#0000f3"/></g>
<g fill="none" stroke-width="1.0" stroke-linecap="round" opacity="1"><path d="M350.5 264.0L349.1 266.2" stroke="#00a2ff"/><path d="M349.1 266.2L347.7 268.4" stroke="#0080ff"/><path d="M347.7 268.4L346.4 270.6" stroke="#005eff"/><path d="M346.4 270.6L344.7 273.1" stroke="#0040ff"/><path d="M344.7 273.1L343.1 275.5" stroke="#0026ff"/><path d="M343.1 275.5L343.9 278.3" stroke="#0019ff"/><path d="M343.9 278.3L344.7 281.0" stroke="#0019ff"/><path d="M344.7 281.0L345.5 283.8" stroke="#0019ff"/><path d="M345.5 283.8L345.8 287.1" stroke="#0022ff"/><path d="M345.8 287.1L346.1 290.4" stroke="#0033ff"/><path d="M346.1 290.4L346.4 293.7" stroke="#0044ff"/><path d="M346.4 293.7L346.8 296.1" stroke="#0046ff"/><path d="M346.8 296.1L347.2 298.6" stroke="#0039ff"/><path d="M347.2 298.6L347.6 301.1" stroke="#002dff"/><path d="M347.6 301.1L348.0 303.6" stroke="#0020ff"/><path d="M348.0 303.6L350.5 307.7" stroke="#0000ff"/><path d="M350.5 307.7L353.0 309.5" stroke="#0000f0"/><path d="M353.0 309.5L355.4 311.3" stroke="#0000e8"/><path d="M355.4 311.3L357.9 313.1" stroke="#0000e0"/><path d="M357.9 313.1L361.2 312.5" stroke="#0000f1"/><path d="M361.2 312.5L364.5 311.8" stroke="#0008ff"/><path d="M364.5 311.8L367.4 311.6" stroke="#0034ff"/><path d="M367.4 311.6L370.3 311.4" stroke="#006aff"/><path d="M370.3 311.4L373.2 311.2" stroke="#009fff"/><path d="M373.2 311.2L376.0 311.0" stroke="#00d5ff"/><path d="M376.0 311.0L378.7 310.6" stroke="#0af2ed"/><path d="M378.7 310.6L381.3 310.3" stroke="#0df6ea"/><path d="M381.3 310.3L384.0 310.0" stroke="#10fae6"/><path d="M384.0 310.0L386.6 309.7" stroke="#14fee3"/><path d="M386.6 309.7L389.2 309.3" stroke="#17ffe0"/><path d="M389.2 309.3L391.9 309.8" stroke="#17ffe0"/><path d="M391.9 309.8L394.5 310.3" stroke="#14fee3"/><path d="M394.5 310.3L397.1 310.8" stroke="#10fae6"/><path d="M397.1 310.8L399.8 311.3" stroke="#0df6ea"/><path d="M399.8 311.3L402.4 311.8" stroke="#0af2ed"/><path d="M402.4 311.8L404.9 311.5" stroke="#0ef6e9"/><path d="M404.9 311.5L407.5 311.3" stroke="#19ffde"/><path d="M407.5 311.3L410.0 311.0" stroke="#24ffd3"/></g>
<g fill="none" stroke-width="1.0" stroke-linecap="round" opacity="1"><path d="M345.5 283.8L343.7 286.3" stroke="#0ef7e8"/><path d="M343.7 286.3L341.8 288.7" stroke="#1bffdc"/><path d="M341.8 288.7L340.0 291.2" stroke="#27ffd0"/><path d="M340.0 291.2L338.1 293.7" stroke="#33ffc3"/><path d="M338.1 293.7L336.5 295.6" stroke="#47ffb0"/><path d="M336.5 295.6L334.8 297.6" stroke="#61ff96"/><path d="M334.8 297.6L333.2 299.6" stroke="#7bff7b"/><path d="M333.2 299.6L331.5 301.6" stroke="#96ff61"/><path d="M331.5 301.6L329.9 303.6" stroke="#b0ff47"/></g>
<g fill="none" stroke-width="1.0" stroke-linecap="round" opacity="1"><path d="M345.5 284.1L348.8 284.0" stroke="#0000a2"/><path d="M348.8 284.0L352.1 283.9" stroke="#0000a2"/><path d="M352.1 283.9L355.4 283.8" stroke="#0000a2"/></g>
<g fill="none" stroke-width="1.0" stroke-linecap="round" opacity="1"><path d="M345.5 283.6L348.8 283.5" stroke="#0000a2"/><path d="M348.8 283.5L352.1 283.4" stroke="#0000a2"/><path d="M352.1 283.4L355.4 283.3" stroke="#0000a2"/></g>
<g fill="none" stroke-width="1.0" stroke-linecap="round" opacity="1"><path d="M345.5 284.6L348.8 284.5" stroke="#0000a2"/><path d="M348.8 284.5L352.1 284.4" stroke="#0000a2"/><path d="M352.1 284.4L355.4 284.3" stroke="#0000a2"/></g>
<g fill="none" stroke-width="1.0" stroke-linecap="round" opacity="1"><path d="M353.0 270.6L351.9 273.3" stroke="#08f0ef"/><path d="M351.9 273.3L350.8 276.1" stroke="#08f0ef"/><path d="M350.8 276.1L349.7 278.8" stroke="#08f0ef"/><path d="M349.7 278.8L348.0 280.9" stroke="#08f0ef"/><path d="M348.0 280.9L346.4 283.0" stroke="#08f0ef"/></g>
<g fill="none" stroke-width="1.0" stroke-linecap="round" opacity="1"><path d="M343.1 184.4L343.6 186.9" stroke="#6bff8c"/><path d="M343.6 186.9L344.2 189.4" stroke="#4affad"/><path d="M344.2 189.4L344.7 191.9" stroke="#29ffce"/><path d="M344.7 191.9L345.5 194.3" stroke="#06edf1"/><path d="M345.5 194.3L346.4 196.8" stroke="#00bfff"/><path d="M346.4 196.8L347.2 199.3" stroke="#0091ff"/><path d="M347.2 199.3L348.0 201.7" stroke="#0063ff"/><path d="M348.0 201.7L348.8 204.2" stroke="#0047ff"/><path d="M348.8 204.2L349.7 206.6" stroke="#003dff"/><path d="M349.7 206.6L350.5 209.0" stroke="#0033ff"/><path d="M350.5 209.0L351.3 211.4" stroke="#0029ff"/><path d="M351.3 211.4L352.1 213.8" stroke="#001fff"/><path d="M352.1 213.8L353.8 214.0" stroke="#0019ff"/><path d="M353.8 214.0L354.2 216.5" stroke="#0020ff"/><path d="M354.2 216.5L354.6 218.9" stroke="#002dff"/><path d="M354.6 218.9L355.0 221.4" stroke="#0039ff"/><path d="M355.0 221.4L355.4 223.9" stroke="#0046ff"/><path d="M355.4 223.9L356.1 226.4" stroke="#0073ff"/><path d="M356.1 226.4L356.7 228.8" stroke="#00bfff"/><path d="M356.7 228.8L357.3 231.3" stroke="#1fffd8"/><path d="M357.3 231.3L357.9 233.8" stroke="#5dff9a"/><path d="M357.9 233.8L358.1 236.4" stroke="#72ff85"/><path d="M358.1 236.4L358.2 239.1" stroke="#5eff99"/><path d="M358.2 239.1L358.4 241.7" stroke="#4affad"/><path d="M358.4 241.7L358.6 244.3" stroke="#36ffc0"/><path d="M358.6 244.3L358.7 247.0" stroke="#23ffd4"/><path d="M358.7 247.0L358.9 249.6" stroke="#06edf1"/><path d="M358.9 249.6L359.1 252.2" stroke="#00beff"/><path d="M359.1 252.2L359.2 254.9" stroke="#008fff"/><path d="M359.2 254.9L359.4 257.5" stroke="#0060ff"/><path d="M359.4 257.5L359.6 260.2" stroke="#0031ff"/><path d="M359.6 260.2L359.6 262.8" stroke="#0014ff"/><path d="M359.6 262.8L359.6 265.5" stroke="#000aff"/><path d="M359.6 265.5L359.6 268.1" stroke="#0000ff"/><path d="M359.6 268.1L359.6 270.8" stroke="#0000ff"/><path d="M359.6 270.8L359.6 273.5" stroke="#0000f9"/><path d="M359.6 273.5L359.6 276.1" stroke="#0000ee"/><path d="M359.6 276.1L359.6 278.8" stroke="#0000e2"/><path d="M359.6 278.8L360.4 278.8" stroke="#0000e8"/></g>
<g fill="none" stroke-width="1.0" stroke-linecap="round" opacity="1"><path d="M349.7 184.4L350.3 187.1" stroke="#57ff9f"/><path d="M350.3 187.1L350.9 189.8" stroke="#0ff9e7"/><path d="M350.9 189.8L351.5 192.5" stroke="#009fff"/><path d="M351.5 192.5L352.1 195.2" stroke="#0046ff"/><path d="M352.1 195.2L352.8 197.6" stroke="#0013ff"/><path d="M352.8 197.6L353.4 200.1" stroke="#0006ff"/><path d="M353.4 200.1L354.0 202.6" stroke="#0000ff"/><path d="M354.0 202.6L354.6 205.0" stroke="#0000fb"/><path d="M354.6 205.0L354.9 208.0" stroke="#0000ea"/><path d="M354.9 208.0L355.2 210.9" stroke="#0000d6"/><path d="M355.2 210.9L355.4 213.8" stroke="#0000c3"/><path d="M355.4 213.8L356.3 217.2" stroke="#0000c8"/><path d="M356.3 217.2L357.1 220.6" stroke="#0000e5"/><path d="M357.1 220.6L357.3 223.2" stroke="#0005ff"/><path d="M357.3 223.2L357.4 225.9" stroke="#0042ff"/><path d="M357.4 225.9L357.6 228.5" stroke="#0080ff"/><path d="M357.6 228.5L357.7 231.1" stroke="#00bdff"/><path d="M357.7 231.1L357.9 233.8" stroke="#10fae6"/></g>
<g fill="none" stroke-width="1.0" stroke-linecap="round" opacity="1"><path d="M353.8 186.1L356.7 188.1" stroke="#f7f600"/><path d="M356.7 188.1L359.6 190.2" stroke="#f7f600"/><path d="M359.6 190.2L359.8 193.0" stroke="#d2ff25"/><path d="M359.8 193.0L360.1 195.7" stroke="#88ff6f"/><path d="M360.1 195.7L360.4 198.5" stroke="#3effb9"/><path d="M360.4 198.5L360.5 201.0" stroke="#13fde4"/><path d="M360.5 201.0L360.7 203.6" stroke="#08f0ef"/><path d="M360.7 203.6L360.8 206.1" stroke="#00e2fa"/><path d="M360.8 206.1L360.9 208.7" stroke="#00d4ff"/><path d="M360.9 208.7L361.1 211.2" stroke="#00c7ff"/><path d="M361.1 211.2L361.2 213.8" stroke="#00b9ff"/><path d="M361.2 213.8L362.0 214.0" stroke="#0033ff"/><path d="M362.0 214.0L361.8 216.9" stroke="#0000c1"/><path d="M361.8 216.9L361.6 219.8" stroke="#0000cf"/><path d="M361.6 219.8L361.4 222.7" stroke="#0000de"/><path d="M361.4 222.7L361.2 225.5" stroke="#0000ec"/><path d="M361.2 225.5L360.6 228.0" stroke="#0013ff"/><path d="M360.6 228.0L360.0 230.5" stroke="#006cff"/><path d="M360.0 230.5L359.4 233.0" stroke="#00c6ff"/><path d="M359.4 233.0L358.7 235.4" stroke="#2effc9"/><path d="M358.7 235.4L358.1 238.1" stroke="#4dffaa"/><path d="M358.1 238.1L357.4 240.7" stroke="#41ffb6"/><path d="M357.4 240.7L356.8 243.3" stroke="#35ffc1"/><path d="M356.8 243.3L356.1 246.0" stroke="#2affcd"/><path d="M356.1 246.0L355.4 248.6" stroke="#1effd8"/><path d="M355.4 248.6L354.4 251.5" stroke="#14fee3"/><path d="M354.4 251.5L353.4 254.4" stroke="#09f1ee"/><path d="M353.4 254.4L352.3 257.3" stroke="#00e4f8"/><path d="M352.3 257.3L351.3 260.2" stroke="#00d7ff"/><path d="M351.3 260.2L350.1 262.6" stroke="#00cdff"/><path d="M350.1 262.6L348.8 265.1" stroke="#00c6ff"/><path d="M348.8 265.1L347.6 267.6" stroke="#00beff"/><path d="M347.6 267.6L346.4 270.0" stroke="#00b6ff"/><path d="M346.4 270.0L344.7 273.3" stroke="#00b2ff"/><path d="M344.7 273.3L343.1 276.6" stroke="#00b2ff"/></g>
<g fill="none" stroke-width="1.0" stroke-linecap="round" opacity="1"><path d="M346.4 186.9L347.4 189.8" stroke="#15ffe2"/><path d="M347.4 189.8L348.4 192.7" stroke="#00ccff"/><path d="M348.4 192.7L349.5 195.6" stroke="#0099ff"/><path d="M349.5 195.6L350.5 198.5" stroke="#0066ff"/><path d="M350.5 198.5L351.0 201.0" stroke="#0048ff"/><path d="M351.0 201.0L351.6 203.6" stroke="#0040ff"/><path d="M351.6 203.6L352.1 206.1" stroke="#0037ff"/><path d="M352.1 206.1L352.7 208.7" stroke="#002fff"/><path d="M352.7 208.7L353.2 211.2" stroke="#0026ff"/><path d="M353.2 211.2L353.8 213.8" stroke="#001eff"/></g>
<g fill="none" stroke-width="1.0" stroke-linecap="round" opacity="1"><path d="M348.0 186.1L348.8 188.8" stroke="#39ffbe"/><path d="M348.8 188.8L349.7 191.4" stroke="#05ecf2"/><path d="M349.7 191.4L350.5 194.1" stroke="#00acff"/><path d="M350.5 194.1L351.3 196.8" stroke="#006cff"/><path d="M351.3 196.8L352.0 199.3" stroke="#003dff"/><path d="M352.0 199.3L352.7 201.7" stroke="#001fff"/><path d="M352.7 201.7L353.4 204.2" stroke="#0000ff"/><path d="M353.4 204.2L354.1 206.7" stroke="#0000ee"/><path d="M354.1 206.7L354.5 210.2" stroke="#0000d4"/><path d="M354.5 210.2L354.9 213.8" stroke="#0000c2"/></g>
<g fill="none" stroke-width="1.0" stroke-linecap="round" opacity="1"><path d="M344.7 186.1L345.3 188.8" stroke="#43ffb4"/><path d="M345.3 188.8L346.0 191.4" stroke="#24ffd3"/><path d="M346.0 191.4L346.6 194.1" stroke="#05ecf2"/><path d="M346.6 194.1L347.2 196.8" stroke="#00c6ff"/><path d="M347.2 196.8L348.0 199.3" stroke="#00a6ff"/><path d="M348.0 199.3L348.8 201.7" stroke="#008cff"/><path d="M348.8 201.7L349.7 204.2" stroke="#0073ff"/><path d="M349.7 204.2L350.5 206.7" stroke="#0059ff"/><path d="M350.5 206.7L351.3 209.1" stroke="#003fff"/><path d="M351.3 209.1L352.1 211.4" stroke="#0024ff"/><path d="M352.1 211.4L353.0 213.8" stroke="#0008ff"/></g>
<g fill="none" stroke-width="1.0" stroke-linecap="round" opacity="1"><path d="M357.1 247.0L356.4 249.4" stroke="#15ffe2"/><path d="M356.4 249.4L355.7 251.9" stroke="#0ef7e8"/><path d="M355.7 251.9L355.0 254.4" stroke="#08efef"/><path d="M355.0 254.4L354.3 256.9" stroke="#01e6f6"/><path d="M354.3 256.9L353.7 259.3" stroke="#00defd"/><path d="M353.7 259.3L353.0 261.8" stroke="#00d5ff"/><path d="M353.0 261.8L351.9 264.7" stroke="#00cdff"/><path d="M351.9 264.7L350.9 267.6" stroke="#00c6ff"/><path d="M350.9 267.6L349.9 270.5" stroke="#00beff"/><path d="M349.9 270.5L348.8 273.3" stroke="#00b6ff"/><path d="M348.8 273.3L347.6 276.1" stroke="#00b2ff"/><path d="M347.6 276.1L346.4 278.8" stroke="#00b2ff"/></g>
<g fill="none" stroke-width="1.0" stroke-linecap="round" opacity="1"><path d="M357.9 250.3L357.4 252.9" stroke="#00a3ff"/><path d="M357.4 252.9L356.9 255.5" stroke="#0085ff"/><path d="M356.9 255.5L356.4 258.2" stroke="#0066ff"/><path d="M356.4 258.2L355.9 260.8" stroke="#0047ff"/><path d="M355.9 260.8L355.4 263.5" stroke="#0029ff"/><path d="M355.4 263.5L355.2 266.0" stroke="#0015ff"/><path d="M355.2 266.0L354.9 268.6" stroke="#000dff"/><path d="M354.9 268.6L354.6 271.1" stroke="#0004ff"/><path d="M354.6 271.1L354.3 273.7" stroke="#0000ff"/><path d="M354.3 273.7L354.1 276.2" stroke="#0000ff"/><path d="M354.1 276.2L353.8 278.8" stroke="#0000f8"/><path d="M353.8 278.8L355.4 278.8" stroke="#0000e8"/></g>
<g fill="none" stroke-width="1.0" stroke-linecap="round" opacity="1"><path d="M343.1 182.0L346.0 182.0" stroke="#d8ff1f"/><path d="M346.0 182.0L348.8 182.0" stroke="#ecff0a"/><path d="M348.8 182.0L351.3 181.6" stroke="#ffd900"/><path d="M351.3 181.6L353.8 181.1" stroke="#ffa100"/></g>
<g fill="none" stroke-width="1.0" stroke-linecap="round" opacity="1"><path d="M346.4 179.5L348.8 182.0" stroke="#afff48"/><path d="M348.8 182.0L351.3 184.4" stroke="#c3ff33"/></g>
<g fill="none" stroke-width="1.0" stroke-linecap="round" opacity="1"><path d="M347.2 184.4L349.7 182.0" stroke="#b3ff44"/><path d="M349.7 182.0L352.1 179.5" stroke="#ffc400"/></g>
<g fill="none" stroke-width="1.0" stroke-linecap="round" opacity="1"><path d="M348.8 178.7L349.3 181.6" stroke="#ceff29"/><path d="M349.3 181.6L349.7 184.4" stroke="#ceff29"/></g>
</g>
<rect x="23.5" y="5" width="152" height="5" fill="#fff"/>
<text x="28.0" y="14.6" font-size="9.4" fill="#111" stroke="#111" stroke-width="0.08" textLength="143.2" lengthAdjust="spacingAndGlyphs">Error mapped onto trajectory</text>
<rect x="315.5" y="7" width="150" height="5" fill="#fff"/>
<text x="319.8" y="18.1" font-size="9.3" fill="#111" stroke="#111" stroke-width="0.08" textLength="141.2" lengthAdjust="spacingAndGlyphs">Error mapped onto trajectory</text>
<rect x="112.4" y="22.0" width="51.8" height="11.0" rx="1.3" fill="#eaeaf2" fill-opacity="0.8" stroke="#d0d0d8" stroke-width="0.6"/>
<path d="M114.6 27.1H126.6" stroke="#555" stroke-width="1.05" stroke-dasharray="3 1.4"/>
<text x="132.2" y="29.3" font-size="6.35">reference</text>
<rect x="400.7" y="25.3" width="52.6" height="11.2" rx="1.3" fill="#eaeaf2" fill-opacity="0.8" stroke="#d0d0d8" stroke-width="0.6"/>
<path d="M403.0 30.5H415.4" stroke="#555" stroke-width="1.05" stroke-dasharray="3 1.4"/>
<text x="420.9" y="32.7" font-size="6.35">reference</text>
<rect x="202.7" y="18.7" width="14.6" height="308.8" fill="url(#jet)"/>
<rect x="490.8" y="22.1" width="14.5" height="305.8" fill="url(#jet)"/>
<g stroke="#111" stroke-width="1">
<path d="M220.9 19.2h3M217.3 173.2h2.4M217.3 327.4h2.4"/>
<path d="M506.1 22.2h2.8M506.1 175.2h2.8M506.6 328.5h2.6"/>
</g>
<g font-size="9.8" fill="#111">
<text x="224.3" y="23.5">1.150</text><text x="219.8" y="176.7">0.820</text><text x="219.8" y="331.3">0.739</text>
</g><g font-size="9.4" fill="#111">
<text x="510.8" y="26.6">0.282</text><text x="510" y="178.8">0.149</text><text x="509.9" y="331.8">0.017</text>
</g>
<g class="cap" fill="#111"><text transform="translate(118.8 384.7) scale(0.83 1)" font-size="20.8" stroke="#111" stroke-width="0.3">(</text><text transform="translate(124.4 384.7) scale(1.1 1)" font-size="16.6" font-weight="bold">a</text><text transform="translate(134.5 384.7) scale(0.83 1)" font-size="20.8" stroke="#111" stroke-width="0.3">)</text></g>
<g class="cap" fill="#111"><text transform="translate(409.5 384.7) scale(0.83 1)" font-size="20.8" stroke="#111" stroke-width="0.3">(</text><text transform="translate(416.4 384.7)" font-size="18.6" font-weight="bold">b</text><text transform="translate(427.8 384.7) scale(0.83 1)" font-size="20.8" stroke="#111" stroke-width="0.3">)</text></g>
</svg></body></html>
